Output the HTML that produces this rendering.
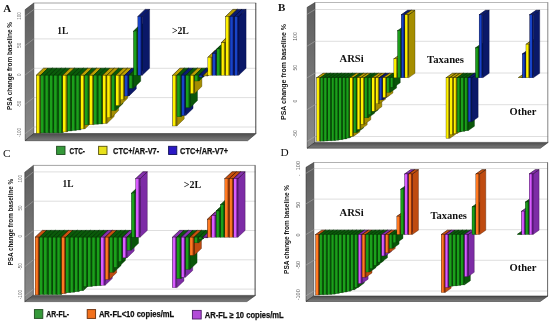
<!DOCTYPE html>
<html lang="en"><head><meta charset="utf-8"><title>PSA change from baseline</title>
<style>html,body{margin:0;padding:0;background:#fff}body{width:550px;height:323px;overflow:hidden}svg{display:block}</style></head>
<body>
<svg width="550" height="323" viewBox="0 0 550 323">
<defs><linearGradient id="wall" x1="0" y1="0" x2="0" y2="1"><stop offset="0" stop-color="#5e5e5e"/><stop offset="1" stop-color="#8a8a8a"/></linearGradient><linearGradient id="floor" x1="0" y1="0" x2="0" y2="1"><stop offset="0" stop-color="#4c4c4c"/><stop offset="1" stop-color="#7c7c7c"/></linearGradient><linearGradient id="gG" x1="0" y1="0" x2="1" y2="0"><stop offset="0" stop-color="#095409"/><stop offset="0.15" stop-color="#1ba01b"/><stop offset="0.5" stop-color="#1ba01b"/><stop offset="0.78" stop-color="#095409"/><stop offset="1" stop-color="#095409"/></linearGradient><linearGradient id="gY" x1="0" y1="0" x2="1" y2="0"><stop offset="0" stop-color="#7a6c00"/><stop offset="0.15" stop-color="#fff200"/><stop offset="0.5" stop-color="#fff200"/><stop offset="0.78" stop-color="#7a6c00"/><stop offset="1" stop-color="#7a6c00"/></linearGradient><linearGradient id="gB" x1="0" y1="0" x2="1" y2="0"><stop offset="0" stop-color="#07125c"/><stop offset="0.15" stop-color="#1844c8"/><stop offset="0.5" stop-color="#1844c8"/><stop offset="0.78" stop-color="#07125c"/><stop offset="1" stop-color="#07125c"/></linearGradient><linearGradient id="gO" x1="0" y1="0" x2="1" y2="0"><stop offset="0" stop-color="#8a3206"/><stop offset="0.15" stop-color="#ff7a22"/><stop offset="0.5" stop-color="#ff7a22"/><stop offset="0.78" stop-color="#8a3206"/><stop offset="1" stop-color="#8a3206"/></linearGradient><linearGradient id="gP" x1="0" y1="0" x2="1" y2="0"><stop offset="0" stop-color="#5e1a82"/><stop offset="0.15" stop-color="#d95cff"/><stop offset="0.5" stop-color="#d95cff"/><stop offset="0.78" stop-color="#5e1a82"/><stop offset="1" stop-color="#5e1a82"/></linearGradient></defs>
<rect width="550" height="323" fill="#fff"/>
<g><rect x="33.8" y="3" width="222.4" height="130.5" fill="#fff"/>
<line x1="33.8" y1="9.5" x2="256.2" y2="9.5" stroke="#d6d6d6" stroke-width="0.8"/>
<line x1="33.8" y1="38.9" x2="256.2" y2="38.9" stroke="#d6d6d6" stroke-width="0.8"/>
<line x1="33.8" y1="68.3" x2="256.2" y2="68.3" stroke="#d6d6d6" stroke-width="0.8"/>
<line x1="33.8" y1="97.6" x2="256.2" y2="97.6" stroke="#d6d6d6" stroke-width="0.8"/>
<line x1="33.8" y1="127" x2="256.2" y2="127" stroke="#d6d6d6" stroke-width="0.8"/>
<line x1="33.8" y1="3" x2="256.2" y2="3" stroke="#9a9a9a" stroke-width="0.9"/>
<line x1="255.8" y1="3" x2="255.8" y2="133.5" stroke="#2c2c2c" stroke-width="0.9"/>
<polygon points="25.2,9.6 33.8,3 33.8,133.5 25.2,140.7" fill="url(#wall)" stroke="#2e2e2e" stroke-width="0.55" stroke-linejoin="round"/>
<line x1="33.8" y1="9.5" x2="25.2" y2="16.1" stroke="#b5b5b5" stroke-width="0.5"/>
<line x1="33.8" y1="38.9" x2="25.2" y2="45.5" stroke="#b5b5b5" stroke-width="0.5"/>
<line x1="33.8" y1="68.3" x2="25.2" y2="74.9" stroke="#b5b5b5" stroke-width="0.5"/>
<line x1="33.8" y1="97.6" x2="25.2" y2="104.2" stroke="#b5b5b5" stroke-width="0.5"/>
<line x1="33.8" y1="127" x2="25.2" y2="133.6" stroke="#b5b5b5" stroke-width="0.5"/>
<polygon points="25.2,140.7 33.8,133.5 256.2,133.5 247.6,140.7" fill="url(#floor)" stroke="#2e2e2e" stroke-width="0.55" stroke-linejoin="round"/>
<polygon points="40.62,75.3 47.92,68.2 47.92,126.12 40.62,133.22" fill="#a58e00" stroke="#3a3300" stroke-width="0.35" stroke-linejoin="round"/>
<polygon points="36.2,75.3 43.5,68.2 47.92,68.2 40.62,75.3" fill="#bca000" stroke="#3a3300" stroke-width="0.7" stroke-linejoin="round"/>
<rect x="36.2" y="75.3" width="4.42" height="57.92" fill="url(#gY)" stroke="#3a3300" stroke-width="0.3"/>
<polygon points="45.04,75.3 52.34,68.2 52.34,125.82 45.04,132.92" fill="#0a560a" stroke="#063806" stroke-width="0.35" stroke-linejoin="round"/>
<polygon points="40.62,75.3 47.92,68.2 52.34,68.2 45.04,75.3" fill="#0a5a0a" stroke="#063806" stroke-width="0.7" stroke-linejoin="round"/>
<rect x="40.62" y="75.3" width="4.42" height="57.62" fill="url(#gG)" stroke="#063806" stroke-width="0.3"/>
<polygon points="49.46,75.3 56.76,68.2 56.76,125.82 49.46,132.92" fill="#0a560a" stroke="#063806" stroke-width="0.35" stroke-linejoin="round"/>
<polygon points="45.04,75.3 52.34,68.2 56.76,68.2 49.46,75.3" fill="#0a5a0a" stroke="#063806" stroke-width="0.7" stroke-linejoin="round"/>
<rect x="45.04" y="75.3" width="4.42" height="57.62" fill="url(#gG)" stroke="#063806" stroke-width="0.3"/>
<polygon points="53.88,75.3 61.18,68.2 61.18,125.82 53.88,132.92" fill="#0a560a" stroke="#063806" stroke-width="0.35" stroke-linejoin="round"/>
<polygon points="49.46,75.3 56.76,68.2 61.18,68.2 53.88,75.3" fill="#0a5a0a" stroke="#063806" stroke-width="0.7" stroke-linejoin="round"/>
<rect x="49.46" y="75.3" width="4.42" height="57.62" fill="url(#gG)" stroke="#063806" stroke-width="0.3"/>
<polygon points="58.3,75.3 65.6,68.2 65.6,125.82 58.3,132.92" fill="#0a560a" stroke="#063806" stroke-width="0.35" stroke-linejoin="round"/>
<polygon points="53.88,75.3 61.18,68.2 65.6,68.2 58.3,75.3" fill="#0a5a0a" stroke="#063806" stroke-width="0.7" stroke-linejoin="round"/>
<rect x="53.88" y="75.3" width="4.42" height="57.62" fill="url(#gG)" stroke="#063806" stroke-width="0.3"/>
<polygon points="62.72,75.3 70.02,68.2 70.02,125.82 62.72,132.92" fill="#0a560a" stroke="#063806" stroke-width="0.35" stroke-linejoin="round"/>
<polygon points="58.3,75.3 65.6,68.2 70.02,68.2 62.72,75.3" fill="#0a5a0a" stroke="#063806" stroke-width="0.7" stroke-linejoin="round"/>
<rect x="58.3" y="75.3" width="4.42" height="57.62" fill="url(#gG)" stroke="#063806" stroke-width="0.3"/>
<polygon points="67.14,75.3 74.44,68.2 74.44,124.88 67.14,131.98" fill="#a58e00" stroke="#3a3300" stroke-width="0.35" stroke-linejoin="round"/>
<polygon points="62.72,75.3 70.02,68.2 74.44,68.2 67.14,75.3" fill="#bca000" stroke="#3a3300" stroke-width="0.7" stroke-linejoin="round"/>
<rect x="62.72" y="75.3" width="4.42" height="56.68" fill="url(#gY)" stroke="#3a3300" stroke-width="0.3"/>
<polygon points="71.56,75.3 78.86,68.2 78.86,123.88 71.56,130.98" fill="#0a560a" stroke="#063806" stroke-width="0.35" stroke-linejoin="round"/>
<polygon points="67.14,75.3 74.44,68.2 78.86,68.2 71.56,75.3" fill="#0a5a0a" stroke="#063806" stroke-width="0.7" stroke-linejoin="round"/>
<rect x="67.14" y="75.3" width="4.42" height="55.68" fill="url(#gG)" stroke="#063806" stroke-width="0.3"/>
<polygon points="75.98,75.3 83.28,68.2 83.28,123.41 75.98,130.51" fill="#0a560a" stroke="#063806" stroke-width="0.35" stroke-linejoin="round"/>
<polygon points="71.56,75.3 78.86,68.2 83.28,68.2 75.98,75.3" fill="#0a5a0a" stroke="#063806" stroke-width="0.7" stroke-linejoin="round"/>
<rect x="71.56" y="75.3" width="4.42" height="55.21" fill="url(#gG)" stroke="#063806" stroke-width="0.3"/>
<polygon points="80.4,75.3 87.7,68.2 87.7,122.88 80.4,129.98" fill="#0a560a" stroke="#063806" stroke-width="0.35" stroke-linejoin="round"/>
<polygon points="75.98,75.3 83.28,68.2 87.7,68.2 80.4,75.3" fill="#0a5a0a" stroke="#063806" stroke-width="0.7" stroke-linejoin="round"/>
<rect x="75.98" y="75.3" width="4.42" height="54.68" fill="url(#gG)" stroke="#063806" stroke-width="0.3"/>
<polygon points="84.82,75.3 92.12,68.2 92.12,121.88 84.82,128.98" fill="#a58e00" stroke="#3a3300" stroke-width="0.35" stroke-linejoin="round"/>
<polygon points="80.4,75.3 87.7,68.2 92.12,68.2 84.82,75.3" fill="#bca000" stroke="#3a3300" stroke-width="0.7" stroke-linejoin="round"/>
<rect x="80.4" y="75.3" width="4.42" height="53.68" fill="url(#gY)" stroke="#3a3300" stroke-width="0.3"/>
<polygon points="89.24,75.3 96.54,68.2 96.54,117.71 89.24,124.81" fill="#0a560a" stroke="#063806" stroke-width="0.35" stroke-linejoin="round"/>
<polygon points="84.82,75.3 92.12,68.2 96.54,68.2 89.24,75.3" fill="#0a5a0a" stroke="#063806" stroke-width="0.7" stroke-linejoin="round"/>
<rect x="84.82" y="75.3" width="4.42" height="49.51" fill="url(#gG)" stroke="#063806" stroke-width="0.3"/>
<polygon points="93.66,75.3 100.96,68.2 100.96,117.71 93.66,124.81" fill="#a58e00" stroke="#3a3300" stroke-width="0.35" stroke-linejoin="round"/>
<polygon points="89.24,75.3 96.54,68.2 100.96,68.2 93.66,75.3" fill="#bca000" stroke="#3a3300" stroke-width="0.7" stroke-linejoin="round"/>
<rect x="89.24" y="75.3" width="4.42" height="49.51" fill="url(#gY)" stroke="#3a3300" stroke-width="0.3"/>
<polygon points="98.08,75.3 105.38,68.2 105.38,117.12 98.08,124.22" fill="#0a560a" stroke="#063806" stroke-width="0.35" stroke-linejoin="round"/>
<polygon points="93.66,75.3 100.96,68.2 105.38,68.2 98.08,75.3" fill="#0a5a0a" stroke="#063806" stroke-width="0.7" stroke-linejoin="round"/>
<rect x="93.66" y="75.3" width="4.42" height="48.92" fill="url(#gG)" stroke="#063806" stroke-width="0.3"/>
<polygon points="102.5,75.3 109.8,68.2 109.8,116.89 102.5,123.99" fill="#0a560a" stroke="#063806" stroke-width="0.35" stroke-linejoin="round"/>
<polygon points="98.08,75.3 105.38,68.2 109.8,68.2 102.5,75.3" fill="#0a5a0a" stroke="#063806" stroke-width="0.7" stroke-linejoin="round"/>
<rect x="98.08" y="75.3" width="4.42" height="48.69" fill="url(#gG)" stroke="#063806" stroke-width="0.3"/>
<polygon points="106.92,75.3 114.22,68.2 114.22,116.42 106.92,123.52" fill="#a58e00" stroke="#3a3300" stroke-width="0.35" stroke-linejoin="round"/>
<polygon points="102.5,75.3 109.8,68.2 114.22,68.2 106.92,75.3" fill="#bca000" stroke="#3a3300" stroke-width="0.7" stroke-linejoin="round"/>
<rect x="102.5" y="75.3" width="4.42" height="48.22" fill="url(#gY)" stroke="#3a3300" stroke-width="0.3"/>
<polygon points="111.34,75.3 118.64,68.2 118.64,110.59 111.34,117.69" fill="#a58e00" stroke="#3a3300" stroke-width="0.35" stroke-linejoin="round"/>
<polygon points="106.92,75.3 114.22,68.2 118.64,68.2 111.34,75.3" fill="#bca000" stroke="#3a3300" stroke-width="0.7" stroke-linejoin="round"/>
<rect x="106.92" y="75.3" width="4.42" height="42.39" fill="url(#gY)" stroke="#3a3300" stroke-width="0.3"/>
<polygon points="115.76,75.3 123.06,68.2 123.06,103.48 115.76,110.58" fill="#0a560a" stroke="#063806" stroke-width="0.35" stroke-linejoin="round"/>
<polygon points="111.34,75.3 118.64,68.2 123.06,68.2 115.76,75.3" fill="#0a5a0a" stroke="#063806" stroke-width="0.7" stroke-linejoin="round"/>
<rect x="111.34" y="75.3" width="4.42" height="35.28" fill="url(#gG)" stroke="#063806" stroke-width="0.3"/>
<polygon points="120.18,75.3 127.48,68.2 127.48,98.42 120.18,105.52" fill="#a58e00" stroke="#3a3300" stroke-width="0.35" stroke-linejoin="round"/>
<polygon points="115.76,75.3 123.06,68.2 127.48,68.2 120.18,75.3" fill="#bca000" stroke="#3a3300" stroke-width="0.7" stroke-linejoin="round"/>
<rect x="115.76" y="75.3" width="4.42" height="30.22" fill="url(#gY)" stroke="#3a3300" stroke-width="0.3"/>
<polygon points="124.6,75.3 131.9,68.2 131.9,92.6 124.6,99.7" fill="#a58e00" stroke="#3a3300" stroke-width="0.35" stroke-linejoin="round"/>
<polygon points="120.18,75.3 127.48,68.2 131.9,68.2 124.6,75.3" fill="#bca000" stroke="#3a3300" stroke-width="0.7" stroke-linejoin="round"/>
<rect x="120.18" y="75.3" width="4.42" height="24.4" fill="url(#gY)" stroke="#3a3300" stroke-width="0.3"/>
<polygon points="129.02,75.3 136.32,68.2 136.32,88.9 129.02,96" fill="#0a1868" stroke="#040a3a" stroke-width="0.35" stroke-linejoin="round"/>
<polygon points="124.6,75.3 131.9,68.2 136.32,68.2 129.02,75.3" fill="#0a1a70" stroke="#040a3a" stroke-width="0.7" stroke-linejoin="round"/>
<rect x="124.6" y="75.3" width="4.42" height="20.7" fill="url(#gB)" stroke="#040a3a" stroke-width="0.3"/>
<polygon points="133.44,75.3 140.74,68.2 140.74,81.19 133.44,88.29" fill="#0a560a" stroke="#063806" stroke-width="0.35" stroke-linejoin="round"/>
<polygon points="129.02,75.3 136.32,68.2 140.74,68.2 133.44,75.3" fill="#0a5a0a" stroke="#063806" stroke-width="0.7" stroke-linejoin="round"/>
<rect x="129.02" y="75.3" width="4.42" height="12.99" fill="url(#gG)" stroke="#063806" stroke-width="0.3"/>
<polygon points="137.86,31.2 145.16,24.1 145.16,68.2 137.86,75.3" fill="#0a560a" stroke="#063806" stroke-width="0.35" stroke-linejoin="round"/>
<polygon points="133.44,31.2 140.74,24.1 145.16,24.1 137.86,31.2" fill="#0a5a0a" stroke="#063806" stroke-width="0.7" stroke-linejoin="round"/>
<rect x="133.44" y="31.2" width="4.42" height="44.1" fill="url(#gG)" stroke="#063806" stroke-width="0.3"/>
<polygon points="142.28,16.5 149.58,9.4 149.58,68.2 142.28,75.3" fill="#0a1868" stroke="#040a3a" stroke-width="0.35" stroke-linejoin="round"/>
<polygon points="137.86,16.5 145.16,9.4 149.58,9.4 142.28,16.5" fill="#0a1a70" stroke="#040a3a" stroke-width="0.7" stroke-linejoin="round"/>
<rect x="137.86" y="16.5" width="4.42" height="58.8" fill="url(#gB)" stroke="#040a3a" stroke-width="0.3"/>
<polygon points="176.92,75.3 184.22,68.2 184.22,118.89 176.92,125.99" fill="#a58e00" stroke="#3a3300" stroke-width="0.35" stroke-linejoin="round"/>
<polygon points="172.5,75.3 179.8,68.2 184.22,68.2 176.92,75.3" fill="#bca000" stroke="#3a3300" stroke-width="0.7" stroke-linejoin="round"/>
<rect x="172.5" y="75.3" width="4.42" height="50.69" fill="url(#gY)" stroke="#3a3300" stroke-width="0.3"/>
<polygon points="181.34,75.3 188.64,68.2 188.64,109.71 181.34,116.81" fill="#0a560a" stroke="#063806" stroke-width="0.35" stroke-linejoin="round"/>
<polygon points="176.92,75.3 184.22,68.2 188.64,68.2 181.34,75.3" fill="#0a5a0a" stroke="#063806" stroke-width="0.7" stroke-linejoin="round"/>
<rect x="176.92" y="75.3" width="4.42" height="41.51" fill="url(#gG)" stroke="#063806" stroke-width="0.3"/>
<polygon points="185.76,75.3 193.06,68.2 193.06,108.42 185.76,115.52" fill="#0a1868" stroke="#040a3a" stroke-width="0.35" stroke-linejoin="round"/>
<polygon points="181.34,75.3 188.64,68.2 193.06,68.2 185.76,75.3" fill="#0a1a70" stroke="#040a3a" stroke-width="0.7" stroke-linejoin="round"/>
<rect x="181.34" y="75.3" width="4.42" height="40.22" fill="url(#gB)" stroke="#040a3a" stroke-width="0.3"/>
<polygon points="190.18,75.3 197.48,68.2 197.48,100.54 190.18,107.64" fill="#0a560a" stroke="#063806" stroke-width="0.35" stroke-linejoin="round"/>
<polygon points="185.76,75.3 193.06,68.2 197.48,68.2 190.18,75.3" fill="#0a5a0a" stroke="#063806" stroke-width="0.7" stroke-linejoin="round"/>
<rect x="185.76" y="75.3" width="4.42" height="32.34" fill="url(#gG)" stroke="#063806" stroke-width="0.3"/>
<polygon points="194.6,75.3 201.9,68.2 201.9,86.43 194.6,93.53" fill="#a58e00" stroke="#3a3300" stroke-width="0.35" stroke-linejoin="round"/>
<polygon points="190.18,75.3 197.48,68.2 201.9,68.2 194.6,75.3" fill="#bca000" stroke="#3a3300" stroke-width="0.7" stroke-linejoin="round"/>
<rect x="190.18" y="75.3" width="4.42" height="18.23" fill="url(#gY)" stroke="#3a3300" stroke-width="0.3"/>
<polygon points="199.02,75.3 206.32,68.2 206.32,73.9 199.02,81" fill="#0a560a" stroke="#063806" stroke-width="0.35" stroke-linejoin="round"/>
<polygon points="194.6,75.3 201.9,68.2 206.32,68.2 199.02,75.3" fill="#0a5a0a" stroke="#063806" stroke-width="0.7" stroke-linejoin="round"/>
<rect x="194.6" y="75.3" width="4.42" height="5.7" fill="url(#gG)" stroke="#063806" stroke-width="0.3"/>
<polygon points="203.44,75.3 210.74,68.2 210.74,69.96 203.44,77.06" fill="#0a1868" stroke="#040a3a" stroke-width="0.35" stroke-linejoin="round"/>
<polygon points="199.02,75.3 206.32,68.2 210.74,68.2 203.44,75.3" fill="#0a1a70" stroke="#040a3a" stroke-width="0.7" stroke-linejoin="round"/>
<rect x="199.02" y="75.3" width="4.42" height="1.76" fill="url(#gB)" stroke="#040a3a" stroke-width="0.3"/>
<polygon points="207.86,75.3 215.16,68.2 215.16,68.91 207.86,76.01" fill="#a58e00" stroke="#3a3300" stroke-width="0.35" stroke-linejoin="round"/>
<polygon points="203.44,75.3 210.74,68.2 215.16,68.2 207.86,75.3" fill="#bca000" stroke="#3a3300" stroke-width="0.7" stroke-linejoin="round"/>
<rect x="203.44" y="75.3" width="4.42" height="0.71" fill="url(#gY)" stroke="#3a3300" stroke-width="0.3"/>
<polygon points="212.28,57.31 219.58,50.21 219.58,68.2 212.28,75.3" fill="#a58e00" stroke="#3a3300" stroke-width="0.35" stroke-linejoin="round"/>
<polygon points="207.86,57.31 215.16,50.21 219.58,50.21 212.28,57.31" fill="#bca000" stroke="#3a3300" stroke-width="0.7" stroke-linejoin="round"/>
<rect x="207.86" y="57.31" width="4.42" height="17.99" fill="url(#gY)" stroke="#3a3300" stroke-width="0.3"/>
<polygon points="216.7,53.54 224,46.44 224,68.2 216.7,75.3" fill="#0a1868" stroke="#040a3a" stroke-width="0.35" stroke-linejoin="round"/>
<polygon points="212.28,53.54 219.58,46.44 224,46.44 216.7,53.54" fill="#0a1a70" stroke="#040a3a" stroke-width="0.7" stroke-linejoin="round"/>
<rect x="212.28" y="53.54" width="4.42" height="21.76" fill="url(#gB)" stroke="#040a3a" stroke-width="0.3"/>
<polygon points="221.12,49.02 228.42,41.92 228.42,68.2 221.12,75.3" fill="#0a560a" stroke="#063806" stroke-width="0.35" stroke-linejoin="round"/>
<polygon points="216.7,49.02 224,41.92 228.42,41.92 221.12,49.02" fill="#0a5a0a" stroke="#063806" stroke-width="0.7" stroke-linejoin="round"/>
<rect x="216.7" y="49.02" width="4.42" height="26.28" fill="url(#gG)" stroke="#063806" stroke-width="0.3"/>
<polygon points="225.54,42.72 232.84,35.62 232.84,68.2 225.54,75.3" fill="#a58e00" stroke="#3a3300" stroke-width="0.35" stroke-linejoin="round"/>
<polygon points="221.12,42.72 228.42,35.62 232.84,35.62 225.54,42.72" fill="#bca000" stroke="#3a3300" stroke-width="0.7" stroke-linejoin="round"/>
<rect x="221.12" y="42.72" width="4.42" height="32.58" fill="url(#gY)" stroke="#3a3300" stroke-width="0.3"/>
<polygon points="229.96,16.5 237.26,9.4 237.26,68.2 229.96,75.3" fill="#a58e00" stroke="#3a3300" stroke-width="0.35" stroke-linejoin="round"/>
<polygon points="225.54,16.5 232.84,9.4 237.26,9.4 229.96,16.5" fill="#bca000" stroke="#3a3300" stroke-width="0.7" stroke-linejoin="round"/>
<rect x="225.54" y="16.5" width="4.42" height="58.8" fill="url(#gY)" stroke="#3a3300" stroke-width="0.3"/>
<polygon points="234.38,16.5 241.68,9.4 241.68,68.2 234.38,75.3" fill="#0a1868" stroke="#040a3a" stroke-width="0.35" stroke-linejoin="round"/>
<polygon points="229.96,16.5 237.26,9.4 241.68,9.4 234.38,16.5" fill="#0a1a70" stroke="#040a3a" stroke-width="0.7" stroke-linejoin="round"/>
<rect x="229.96" y="16.5" width="4.42" height="58.8" fill="url(#gB)" stroke="#040a3a" stroke-width="0.3"/>
<polygon points="238.8,16.5 246.1,9.4 246.1,68.2 238.8,75.3" fill="#0a1868" stroke="#040a3a" stroke-width="0.35" stroke-linejoin="round"/>
<polygon points="234.38,16.5 241.68,9.4 246.1,9.4 238.8,16.5" fill="#0a1a70" stroke="#040a3a" stroke-width="0.7" stroke-linejoin="round"/>
<rect x="234.38" y="16.5" width="4.42" height="58.8" fill="url(#gB)" stroke="#040a3a" stroke-width="0.3"/></g>
<g><rect x="315" y="2.5" width="233.2" height="139.9" fill="#fff"/>
<line x1="315" y1="9.5" x2="548.2" y2="9.5" stroke="#d6d6d6" stroke-width="0.8"/>
<line x1="315" y1="41.3" x2="548.2" y2="41.3" stroke="#d6d6d6" stroke-width="0.8"/>
<line x1="315" y1="73" x2="548.2" y2="73" stroke="#d6d6d6" stroke-width="0.8"/>
<line x1="315" y1="104.7" x2="548.2" y2="104.7" stroke="#d6d6d6" stroke-width="0.8"/>
<line x1="315" y1="136.5" x2="548.2" y2="136.5" stroke="#d6d6d6" stroke-width="0.8"/>
<line x1="315" y1="2.5" x2="548.2" y2="2.5" stroke="#b0b0b0" stroke-width="0.9"/>
<line x1="547.8" y1="2.5" x2="547.8" y2="142.4" stroke="#777" stroke-width="0.9"/>
<polygon points="307.2,7.3 315,2.5 315,142.4 307.2,148.2" fill="url(#wall)" stroke="#2e2e2e" stroke-width="0.55" stroke-linejoin="round"/>
<line x1="315" y1="9.5" x2="307.2" y2="14.3" stroke="#b5b5b5" stroke-width="0.5"/>
<line x1="315" y1="41.3" x2="307.2" y2="46.1" stroke="#b5b5b5" stroke-width="0.5"/>
<line x1="315" y1="73" x2="307.2" y2="77.8" stroke="#b5b5b5" stroke-width="0.5"/>
<line x1="315" y1="104.7" x2="307.2" y2="109.5" stroke="#b5b5b5" stroke-width="0.5"/>
<line x1="315" y1="136.5" x2="307.2" y2="141.3" stroke="#b5b5b5" stroke-width="0.5"/>
<polygon points="307.2,148.2 315,142.4 548.2,142.4 540.4,148.2" fill="url(#floor)" stroke="#2e2e2e" stroke-width="0.55" stroke-linejoin="round"/>
<polygon points="320.28,77.8 326.68,73.3 326.68,136.69 320.28,141.19" fill="#a58e00" stroke="#3a3300" stroke-width="0.35" stroke-linejoin="round"/>
<polygon points="316.6,77.8 323,73.3 326.68,73.3 320.28,77.8" fill="#bca000" stroke="#3a3300" stroke-width="0.7" stroke-linejoin="round"/>
<rect x="316.6" y="77.8" width="3.68" height="63.39" fill="url(#gY)" stroke="#3a3300" stroke-width="0.3"/>
<polygon points="323.96,77.8 330.36,73.3 330.36,136.63 323.96,141.13" fill="#0a560a" stroke="#063806" stroke-width="0.35" stroke-linejoin="round"/>
<polygon points="320.28,77.8 326.68,73.3 330.36,73.3 323.96,77.8" fill="#0a5a0a" stroke="#063806" stroke-width="0.7" stroke-linejoin="round"/>
<rect x="320.28" y="77.8" width="3.68" height="63.33" fill="url(#gG)" stroke="#063806" stroke-width="0.3"/>
<polygon points="327.64,77.8 334.04,73.3 334.04,136.5 327.64,141" fill="#0a560a" stroke="#063806" stroke-width="0.35" stroke-linejoin="round"/>
<polygon points="323.96,77.8 330.36,73.3 334.04,73.3 327.64,77.8" fill="#0a5a0a" stroke="#063806" stroke-width="0.7" stroke-linejoin="round"/>
<rect x="323.96" y="77.8" width="3.68" height="63.2" fill="url(#gG)" stroke="#063806" stroke-width="0.3"/>
<polygon points="331.32,77.8 337.72,73.3 337.72,136.31 331.32,140.81" fill="#0a560a" stroke="#063806" stroke-width="0.35" stroke-linejoin="round"/>
<polygon points="327.64,77.8 334.04,73.3 337.72,73.3 331.32,77.8" fill="#0a5a0a" stroke="#063806" stroke-width="0.7" stroke-linejoin="round"/>
<rect x="327.64" y="77.8" width="3.68" height="63.01" fill="url(#gG)" stroke="#063806" stroke-width="0.3"/>
<polygon points="335,77.8 341.4,73.3 341.4,136.12 335,140.62" fill="#0a560a" stroke="#063806" stroke-width="0.35" stroke-linejoin="round"/>
<polygon points="331.32,77.8 337.72,73.3 341.4,73.3 335,77.8" fill="#0a5a0a" stroke="#063806" stroke-width="0.7" stroke-linejoin="round"/>
<rect x="331.32" y="77.8" width="3.68" height="62.82" fill="url(#gG)" stroke="#063806" stroke-width="0.3"/>
<polygon points="338.68,77.8 345.08,73.3 345.08,135.68 338.68,140.18" fill="#0a560a" stroke="#063806" stroke-width="0.35" stroke-linejoin="round"/>
<polygon points="335,77.8 341.4,73.3 345.08,73.3 338.68,77.8" fill="#0a5a0a" stroke="#063806" stroke-width="0.7" stroke-linejoin="round"/>
<rect x="335" y="77.8" width="3.68" height="62.38" fill="url(#gG)" stroke="#063806" stroke-width="0.3"/>
<polygon points="342.36,77.8 348.76,73.3 348.76,135.3 342.36,139.8" fill="#0a560a" stroke="#063806" stroke-width="0.35" stroke-linejoin="round"/>
<polygon points="338.68,77.8 345.08,73.3 348.76,73.3 342.36,77.8" fill="#0a5a0a" stroke="#063806" stroke-width="0.7" stroke-linejoin="round"/>
<rect x="338.68" y="77.8" width="3.68" height="62" fill="url(#gG)" stroke="#063806" stroke-width="0.3"/>
<polygon points="346.04,77.8 352.44,73.3 352.44,134.48 346.04,138.98" fill="#0a560a" stroke="#063806" stroke-width="0.35" stroke-linejoin="round"/>
<polygon points="342.36,77.8 348.76,73.3 352.44,73.3 346.04,77.8" fill="#0a5a0a" stroke="#063806" stroke-width="0.7" stroke-linejoin="round"/>
<rect x="342.36" y="77.8" width="3.68" height="61.18" fill="url(#gG)" stroke="#063806" stroke-width="0.3"/>
<polygon points="349.72,77.8 356.12,73.3 356.12,133.53 349.72,138.03" fill="#0a560a" stroke="#063806" stroke-width="0.35" stroke-linejoin="round"/>
<polygon points="346.04,77.8 352.44,73.3 356.12,73.3 349.72,77.8" fill="#0a5a0a" stroke="#063806" stroke-width="0.7" stroke-linejoin="round"/>
<rect x="346.04" y="77.8" width="3.68" height="60.23" fill="url(#gG)" stroke="#063806" stroke-width="0.3"/>
<polygon points="353.4,77.8 359.8,73.3 359.8,131.89 353.4,136.39" fill="#a58e00" stroke="#3a3300" stroke-width="0.35" stroke-linejoin="round"/>
<polygon points="349.72,77.8 356.12,73.3 359.8,73.3 353.4,77.8" fill="#bca000" stroke="#3a3300" stroke-width="0.7" stroke-linejoin="round"/>
<rect x="349.72" y="77.8" width="3.68" height="58.59" fill="url(#gY)" stroke="#3a3300" stroke-width="0.3"/>
<polygon points="357.08,77.8 363.48,73.3 363.48,128.09 357.08,132.59" fill="#0a560a" stroke="#063806" stroke-width="0.35" stroke-linejoin="round"/>
<polygon points="353.4,77.8 359.8,73.3 363.48,73.3 357.08,77.8" fill="#0a5a0a" stroke="#063806" stroke-width="0.7" stroke-linejoin="round"/>
<rect x="353.4" y="77.8" width="3.68" height="54.79" fill="url(#gG)" stroke="#063806" stroke-width="0.3"/>
<polygon points="360.76,77.8 367.16,73.3 367.16,124.87 360.76,129.37" fill="#a58e00" stroke="#3a3300" stroke-width="0.35" stroke-linejoin="round"/>
<polygon points="357.08,77.8 363.48,73.3 367.16,73.3 360.76,77.8" fill="#bca000" stroke="#3a3300" stroke-width="0.7" stroke-linejoin="round"/>
<rect x="357.08" y="77.8" width="3.68" height="51.57" fill="url(#gY)" stroke="#3a3300" stroke-width="0.3"/>
<polygon points="364.44,77.8 370.84,73.3 370.84,119.69 364.44,124.19" fill="#a58e00" stroke="#3a3300" stroke-width="0.35" stroke-linejoin="round"/>
<polygon points="360.76,77.8 367.16,73.3 370.84,73.3 364.44,77.8" fill="#bca000" stroke="#3a3300" stroke-width="0.7" stroke-linejoin="round"/>
<rect x="360.76" y="77.8" width="3.68" height="46.39" fill="url(#gY)" stroke="#3a3300" stroke-width="0.3"/>
<polygon points="368.12,77.8 374.52,73.3 374.52,113.37 368.12,117.87" fill="#0a560a" stroke="#063806" stroke-width="0.35" stroke-linejoin="round"/>
<polygon points="364.44,77.8 370.84,73.3 374.52,73.3 368.12,77.8" fill="#0a5a0a" stroke="#063806" stroke-width="0.7" stroke-linejoin="round"/>
<rect x="364.44" y="77.8" width="3.68" height="40.07" fill="url(#gG)" stroke="#063806" stroke-width="0.3"/>
<polygon points="371.8,77.8 378.2,73.3 378.2,109.89 371.8,114.39" fill="#0a560a" stroke="#063806" stroke-width="0.35" stroke-linejoin="round"/>
<polygon points="368.12,77.8 374.52,73.3 378.2,73.3 371.8,77.8" fill="#0a5a0a" stroke="#063806" stroke-width="0.7" stroke-linejoin="round"/>
<rect x="368.12" y="77.8" width="3.68" height="36.59" fill="url(#gG)" stroke="#063806" stroke-width="0.3"/>
<polygon points="375.48,77.8 381.88,73.3 381.88,106.67 375.48,111.17" fill="#a58e00" stroke="#3a3300" stroke-width="0.35" stroke-linejoin="round"/>
<polygon points="371.8,77.8 378.2,73.3 381.88,73.3 375.48,77.8" fill="#bca000" stroke="#3a3300" stroke-width="0.7" stroke-linejoin="round"/>
<rect x="371.8" y="77.8" width="3.68" height="33.37" fill="url(#gY)" stroke="#3a3300" stroke-width="0.3"/>
<polygon points="379.16,77.8 385.56,73.3 385.56,99.28 379.16,103.78" fill="#a58e00" stroke="#3a3300" stroke-width="0.35" stroke-linejoin="round"/>
<polygon points="375.48,77.8 381.88,73.3 385.56,73.3 379.16,77.8" fill="#bca000" stroke="#3a3300" stroke-width="0.7" stroke-linejoin="round"/>
<rect x="375.48" y="77.8" width="3.68" height="25.98" fill="url(#gY)" stroke="#3a3300" stroke-width="0.3"/>
<polygon points="382.84,77.8 389.24,73.3 389.24,95.48 382.84,99.98" fill="#0a1868" stroke="#040a3a" stroke-width="0.35" stroke-linejoin="round"/>
<polygon points="379.16,77.8 385.56,73.3 389.24,73.3 382.84,77.8" fill="#0a1a70" stroke="#040a3a" stroke-width="0.7" stroke-linejoin="round"/>
<rect x="379.16" y="77.8" width="3.68" height="22.18" fill="url(#gB)" stroke="#040a3a" stroke-width="0.3"/>
<polygon points="386.52,77.8 392.92,73.3 392.92,93.02 386.52,97.52" fill="#a58e00" stroke="#3a3300" stroke-width="0.35" stroke-linejoin="round"/>
<polygon points="382.84,77.8 389.24,73.3 392.92,73.3 386.52,77.8" fill="#bca000" stroke="#3a3300" stroke-width="0.7" stroke-linejoin="round"/>
<rect x="382.84" y="77.8" width="3.68" height="19.72" fill="url(#gY)" stroke="#3a3300" stroke-width="0.3"/>
<polygon points="390.2,77.8 396.6,73.3 396.6,87.9 390.2,92.4" fill="#0a560a" stroke="#063806" stroke-width="0.35" stroke-linejoin="round"/>
<polygon points="386.52,77.8 392.92,73.3 396.6,73.3 390.2,77.8" fill="#0a5a0a" stroke="#063806" stroke-width="0.7" stroke-linejoin="round"/>
<rect x="386.52" y="77.8" width="3.68" height="14.6" fill="url(#gG)" stroke="#063806" stroke-width="0.3"/>
<polygon points="393.88,77.8 400.28,73.3 400.28,82.72 393.88,87.22" fill="#0a560a" stroke="#063806" stroke-width="0.35" stroke-linejoin="round"/>
<polygon points="390.2,77.8 396.6,73.3 400.28,73.3 393.88,77.8" fill="#0a5a0a" stroke="#063806" stroke-width="0.7" stroke-linejoin="round"/>
<rect x="390.2" y="77.8" width="3.68" height="9.42" fill="url(#gG)" stroke="#063806" stroke-width="0.3"/>
<polygon points="397.56,58.84 403.96,54.34 403.96,73.3 397.56,77.8" fill="#a58e00" stroke="#3a3300" stroke-width="0.35" stroke-linejoin="round"/>
<polygon points="393.88,58.84 400.28,54.34 403.96,54.34 397.56,58.84" fill="#bca000" stroke="#3a3300" stroke-width="0.7" stroke-linejoin="round"/>
<rect x="393.88" y="58.84" width="3.68" height="18.96" fill="url(#gY)" stroke="#3a3300" stroke-width="0.3"/>
<polygon points="401.24,30.72 407.64,26.22 407.64,73.3 401.24,77.8" fill="#0a560a" stroke="#063806" stroke-width="0.35" stroke-linejoin="round"/>
<polygon points="397.56,30.72 403.96,26.22 407.64,26.22 401.24,30.72" fill="#0a5a0a" stroke="#063806" stroke-width="0.7" stroke-linejoin="round"/>
<rect x="397.56" y="30.72" width="3.68" height="47.08" fill="url(#gG)" stroke="#063806" stroke-width="0.3"/>
<polygon points="404.92,14.79 411.32,10.29 411.32,73.3 404.92,77.8" fill="#0a1868" stroke="#040a3a" stroke-width="0.35" stroke-linejoin="round"/>
<polygon points="401.24,14.79 407.64,10.29 411.32,10.29 404.92,14.79" fill="#0a1a70" stroke="#040a3a" stroke-width="0.7" stroke-linejoin="round"/>
<rect x="401.24" y="14.79" width="3.68" height="63.01" fill="url(#gB)" stroke="#040a3a" stroke-width="0.3"/>
<polygon points="408.6,14.79 415,10.29 415,73.3 408.6,77.8" fill="#a58e00" stroke="#3a3300" stroke-width="0.35" stroke-linejoin="round"/>
<polygon points="404.92,14.79 411.32,10.29 415,10.29 408.6,14.79" fill="#bca000" stroke="#3a3300" stroke-width="0.7" stroke-linejoin="round"/>
<rect x="404.92" y="14.79" width="3.68" height="63.01" fill="url(#gY)" stroke="#3a3300" stroke-width="0.3"/>
<polygon points="449.68,77.8 456.08,73.3 456.08,133.91 449.68,138.41" fill="#a58e00" stroke="#3a3300" stroke-width="0.35" stroke-linejoin="round"/>
<polygon points="446,77.8 452.4,73.3 456.08,73.3 449.68,77.8" fill="#bca000" stroke="#3a3300" stroke-width="0.7" stroke-linejoin="round"/>
<rect x="446" y="77.8" width="3.68" height="60.61" fill="url(#gY)" stroke="#3a3300" stroke-width="0.3"/>
<polygon points="453.36,77.8 459.76,73.3 459.76,130.18 453.36,134.68" fill="#a58e00" stroke="#3a3300" stroke-width="0.35" stroke-linejoin="round"/>
<polygon points="449.68,77.8 456.08,73.3 459.76,73.3 453.36,77.8" fill="#bca000" stroke="#3a3300" stroke-width="0.7" stroke-linejoin="round"/>
<rect x="449.68" y="77.8" width="3.68" height="56.88" fill="url(#gY)" stroke="#3a3300" stroke-width="0.3"/>
<polygon points="457.04,77.8 463.44,73.3 463.44,129.17 457.04,133.67" fill="#a58e00" stroke="#3a3300" stroke-width="0.35" stroke-linejoin="round"/>
<polygon points="453.36,77.8 459.76,73.3 463.44,73.3 457.04,77.8" fill="#bca000" stroke="#3a3300" stroke-width="0.7" stroke-linejoin="round"/>
<rect x="453.36" y="77.8" width="3.68" height="55.87" fill="url(#gY)" stroke="#3a3300" stroke-width="0.3"/>
<polygon points="460.72,77.8 467.12,73.3 467.12,127.53 460.72,132.03" fill="#0a560a" stroke="#063806" stroke-width="0.35" stroke-linejoin="round"/>
<polygon points="457.04,77.8 463.44,73.3 467.12,73.3 460.72,77.8" fill="#0a5a0a" stroke="#063806" stroke-width="0.7" stroke-linejoin="round"/>
<rect x="457.04" y="77.8" width="3.68" height="54.23" fill="url(#gG)" stroke="#063806" stroke-width="0.3"/>
<polygon points="464.4,77.8 470.8,73.3 470.8,126.89 464.4,131.39" fill="#0a560a" stroke="#063806" stroke-width="0.35" stroke-linejoin="round"/>
<polygon points="460.72,77.8 467.12,73.3 470.8,73.3 464.4,77.8" fill="#0a5a0a" stroke="#063806" stroke-width="0.7" stroke-linejoin="round"/>
<rect x="460.72" y="77.8" width="3.68" height="53.59" fill="url(#gG)" stroke="#063806" stroke-width="0.3"/>
<polygon points="468.08,77.8 474.48,73.3 474.48,126.2 468.08,130.7" fill="#0a560a" stroke="#063806" stroke-width="0.35" stroke-linejoin="round"/>
<polygon points="464.4,77.8 470.8,73.3 474.48,73.3 468.08,77.8" fill="#0a5a0a" stroke="#063806" stroke-width="0.7" stroke-linejoin="round"/>
<rect x="464.4" y="77.8" width="3.68" height="52.9" fill="url(#gG)" stroke="#063806" stroke-width="0.3"/>
<polygon points="471.76,77.8 478.16,73.3 478.16,117.29 471.76,121.79" fill="#0a1868" stroke="#040a3a" stroke-width="0.35" stroke-linejoin="round"/>
<polygon points="468.08,77.8 474.48,73.3 478.16,73.3 471.76,77.8" fill="#0a1a70" stroke="#040a3a" stroke-width="0.7" stroke-linejoin="round"/>
<rect x="468.08" y="77.8" width="3.68" height="43.99" fill="url(#gB)" stroke="#040a3a" stroke-width="0.3"/>
<polygon points="479.12,47.91 485.52,43.41 485.52,73.3 479.12,77.8" fill="#0a560a" stroke="#063806" stroke-width="0.35" stroke-linejoin="round"/>
<polygon points="475.44,47.91 481.84,43.41 485.52,43.41 479.12,47.91" fill="#0a5a0a" stroke="#063806" stroke-width="0.7" stroke-linejoin="round"/>
<rect x="475.44" y="47.91" width="3.68" height="29.89" fill="url(#gG)" stroke="#063806" stroke-width="0.3"/>
<polygon points="482.8,14.79 489.2,10.29 489.2,73.3 482.8,77.8" fill="#0a1868" stroke="#040a3a" stroke-width="0.35" stroke-linejoin="round"/>
<polygon points="479.12,14.79 485.52,10.29 489.2,10.29 482.8,14.79" fill="#0a1a70" stroke="#040a3a" stroke-width="0.7" stroke-linejoin="round"/>
<rect x="479.12" y="14.79" width="3.68" height="63.01" fill="url(#gB)" stroke="#040a3a" stroke-width="0.3"/>
<polygon points="522.28,77.42 528.68,72.92 528.68,73.3 522.28,77.8" fill="#a58e00" stroke="#3a3300" stroke-width="0.35" stroke-linejoin="round"/>
<polygon points="518.6,77.42 525,72.92 528.68,72.92 522.28,77.42" fill="#bca000" stroke="#3a3300" stroke-width="0.7" stroke-linejoin="round"/>
<rect x="518.6" y="77.42" width="3.68" height="0.38" fill="url(#gY)" stroke="#3a3300" stroke-width="0.3"/>
<polygon points="525.96,53.97 532.36,49.47 532.36,73.3 525.96,77.8" fill="#0a1868" stroke="#040a3a" stroke-width="0.35" stroke-linejoin="round"/>
<polygon points="522.28,53.97 528.68,49.47 532.36,49.47 525.96,53.97" fill="#0a1a70" stroke="#040a3a" stroke-width="0.7" stroke-linejoin="round"/>
<rect x="522.28" y="53.97" width="3.68" height="23.83" fill="url(#gB)" stroke="#040a3a" stroke-width="0.3"/>
<polygon points="529.64,44.3 536.04,39.8 536.04,73.3 529.64,77.8" fill="#a58e00" stroke="#3a3300" stroke-width="0.35" stroke-linejoin="round"/>
<polygon points="525.96,44.3 532.36,39.8 536.04,39.8 529.64,44.3" fill="#bca000" stroke="#3a3300" stroke-width="0.7" stroke-linejoin="round"/>
<rect x="525.96" y="44.3" width="3.68" height="33.5" fill="url(#gY)" stroke="#3a3300" stroke-width="0.3"/>
<polygon points="533.32,14.79 539.72,10.29 539.72,73.3 533.32,77.8" fill="#0a1868" stroke="#040a3a" stroke-width="0.35" stroke-linejoin="round"/>
<polygon points="529.64,14.79 536.04,10.29 539.72,10.29 533.32,14.79" fill="#0a1a70" stroke="#040a3a" stroke-width="0.7" stroke-linejoin="round"/>
<rect x="529.64" y="14.79" width="3.68" height="63.01" fill="url(#gB)" stroke="#040a3a" stroke-width="0.3"/></g>
<g><rect x="33.4" y="165.4" width="222.1" height="130" fill="#fff"/>
<line x1="33.4" y1="171.9" x2="255.5" y2="171.9" stroke="#d6d6d6" stroke-width="0.8"/>
<line x1="33.4" y1="201.2" x2="255.5" y2="201.2" stroke="#d6d6d6" stroke-width="0.8"/>
<line x1="33.4" y1="230.5" x2="255.5" y2="230.5" stroke="#d6d6d6" stroke-width="0.8"/>
<line x1="33.4" y1="259.8" x2="255.5" y2="259.8" stroke="#d6d6d6" stroke-width="0.8"/>
<line x1="33.4" y1="289.1" x2="255.5" y2="289.1" stroke="#d6d6d6" stroke-width="0.8"/>
<line x1="33.4" y1="165.4" x2="255.5" y2="165.4" stroke="#9a9a9a" stroke-width="0.9"/>
<line x1="255.1" y1="165.4" x2="255.1" y2="295.4" stroke="#2c2c2c" stroke-width="0.9"/>
<polygon points="24.8,172.2 33.4,165.4 33.4,295.4 24.8,301.6" fill="url(#wall)" stroke="#2e2e2e" stroke-width="0.55" stroke-linejoin="round"/>
<line x1="33.4" y1="171.9" x2="24.8" y2="178.7" stroke="#b5b5b5" stroke-width="0.5"/>
<line x1="33.4" y1="201.2" x2="24.8" y2="208" stroke="#b5b5b5" stroke-width="0.5"/>
<line x1="33.4" y1="230.5" x2="24.8" y2="237.3" stroke="#b5b5b5" stroke-width="0.5"/>
<line x1="33.4" y1="259.8" x2="24.8" y2="266.6" stroke="#b5b5b5" stroke-width="0.5"/>
<line x1="33.4" y1="289.1" x2="24.8" y2="295.9" stroke="#b5b5b5" stroke-width="0.5"/>
<polygon points="24.8,301.6 33.4,295.4 255.5,295.4 246.9,301.6" fill="url(#floor)" stroke="#2e2e2e" stroke-width="0.55" stroke-linejoin="round"/>
<polygon points="39.48,237.2 46.68,230.4 46.68,288.12 39.48,294.92" fill="#bf4b10" stroke="#401802" stroke-width="0.35" stroke-linejoin="round"/>
<polygon points="35.1,237.2 42.3,230.4 46.68,230.4 39.48,237.2" fill="#c9500f" stroke="#401802" stroke-width="0.7" stroke-linejoin="round"/>
<rect x="35.1" y="237.2" width="4.38" height="57.72" fill="url(#gO)" stroke="#401802" stroke-width="0.3"/>
<polygon points="43.85,237.2 51.05,230.4 51.05,287.83 43.85,294.63" fill="#0a560a" stroke="#063806" stroke-width="0.35" stroke-linejoin="round"/>
<polygon points="39.48,237.2 46.68,230.4 51.05,230.4 43.85,237.2" fill="#0a5a0a" stroke="#063806" stroke-width="0.7" stroke-linejoin="round"/>
<rect x="39.48" y="237.2" width="4.38" height="57.43" fill="url(#gG)" stroke="#063806" stroke-width="0.3"/>
<polygon points="48.23,237.2 55.43,230.4 55.43,287.83 48.23,294.63" fill="#0a560a" stroke="#063806" stroke-width="0.35" stroke-linejoin="round"/>
<polygon points="43.85,237.2 51.05,230.4 55.43,230.4 48.23,237.2" fill="#0a5a0a" stroke="#063806" stroke-width="0.7" stroke-linejoin="round"/>
<rect x="43.85" y="237.2" width="4.38" height="57.43" fill="url(#gG)" stroke="#063806" stroke-width="0.3"/>
<polygon points="52.6,237.2 59.8,230.4 59.8,287.83 52.6,294.63" fill="#0a560a" stroke="#063806" stroke-width="0.35" stroke-linejoin="round"/>
<polygon points="48.23,237.2 55.43,230.4 59.8,230.4 52.6,237.2" fill="#0a5a0a" stroke="#063806" stroke-width="0.7" stroke-linejoin="round"/>
<rect x="48.23" y="237.2" width="4.38" height="57.43" fill="url(#gG)" stroke="#063806" stroke-width="0.3"/>
<polygon points="56.98,237.2 64.17,230.4 64.17,287.83 56.98,294.63" fill="#0a560a" stroke="#063806" stroke-width="0.35" stroke-linejoin="round"/>
<polygon points="52.6,237.2 59.8,230.4 64.17,230.4 56.98,237.2" fill="#0a5a0a" stroke="#063806" stroke-width="0.7" stroke-linejoin="round"/>
<rect x="52.6" y="237.2" width="4.38" height="57.43" fill="url(#gG)" stroke="#063806" stroke-width="0.3"/>
<polygon points="61.35,237.2 68.55,230.4 68.55,287.83 61.35,294.63" fill="#0a560a" stroke="#063806" stroke-width="0.35" stroke-linejoin="round"/>
<polygon points="56.98,237.2 64.17,230.4 68.55,230.4 61.35,237.2" fill="#0a5a0a" stroke="#063806" stroke-width="0.7" stroke-linejoin="round"/>
<rect x="56.98" y="237.2" width="4.38" height="57.43" fill="url(#gG)" stroke="#063806" stroke-width="0.3"/>
<polygon points="65.72,237.2 72.92,230.4 72.92,286.89 65.72,293.69" fill="#bf4b10" stroke="#401802" stroke-width="0.35" stroke-linejoin="round"/>
<polygon points="61.35,237.2 68.55,230.4 72.92,230.4 65.72,237.2" fill="#c9500f" stroke="#401802" stroke-width="0.7" stroke-linejoin="round"/>
<rect x="61.35" y="237.2" width="4.38" height="56.49" fill="url(#gO)" stroke="#401802" stroke-width="0.3"/>
<polygon points="70.1,237.2 77.3,230.4 77.3,285.89 70.1,292.69" fill="#0a560a" stroke="#063806" stroke-width="0.35" stroke-linejoin="round"/>
<polygon points="65.72,237.2 72.92,230.4 77.3,230.4 70.1,237.2" fill="#0a5a0a" stroke="#063806" stroke-width="0.7" stroke-linejoin="round"/>
<rect x="65.72" y="237.2" width="4.38" height="55.49" fill="url(#gG)" stroke="#063806" stroke-width="0.3"/>
<polygon points="74.47,237.2 81.67,230.4 81.67,285.43 74.47,292.23" fill="#0a560a" stroke="#063806" stroke-width="0.35" stroke-linejoin="round"/>
<polygon points="70.1,237.2 77.3,230.4 81.67,230.4 74.47,237.2" fill="#0a5a0a" stroke="#063806" stroke-width="0.7" stroke-linejoin="round"/>
<rect x="70.1" y="237.2" width="4.38" height="55.03" fill="url(#gG)" stroke="#063806" stroke-width="0.3"/>
<polygon points="78.85,237.2 86.05,230.4 86.05,284.9 78.85,291.7" fill="#0a560a" stroke="#063806" stroke-width="0.35" stroke-linejoin="round"/>
<polygon points="74.47,237.2 81.67,230.4 86.05,230.4 78.85,237.2" fill="#0a5a0a" stroke="#063806" stroke-width="0.7" stroke-linejoin="round"/>
<rect x="74.47" y="237.2" width="4.38" height="54.5" fill="url(#gG)" stroke="#063806" stroke-width="0.3"/>
<polygon points="83.22,237.2 90.42,230.4 90.42,283.9 83.22,290.7" fill="#0a560a" stroke="#063806" stroke-width="0.35" stroke-linejoin="round"/>
<polygon points="78.85,237.2 86.05,230.4 90.42,230.4 83.22,237.2" fill="#0a5a0a" stroke="#063806" stroke-width="0.7" stroke-linejoin="round"/>
<rect x="78.85" y="237.2" width="4.38" height="53.5" fill="url(#gG)" stroke="#063806" stroke-width="0.3"/>
<polygon points="87.6,237.2 94.8,230.4 94.8,279.74 87.6,286.54" fill="#0a560a" stroke="#063806" stroke-width="0.35" stroke-linejoin="round"/>
<polygon points="83.22,237.2 90.42,230.4 94.8,230.4 87.6,237.2" fill="#0a5a0a" stroke="#063806" stroke-width="0.7" stroke-linejoin="round"/>
<rect x="83.22" y="237.2" width="4.38" height="49.34" fill="url(#gG)" stroke="#063806" stroke-width="0.3"/>
<polygon points="91.97,237.2 99.17,230.4 99.17,279.74 91.97,286.54" fill="#0a560a" stroke="#063806" stroke-width="0.35" stroke-linejoin="round"/>
<polygon points="87.6,237.2 94.8,230.4 99.17,230.4 91.97,237.2" fill="#0a5a0a" stroke="#063806" stroke-width="0.7" stroke-linejoin="round"/>
<rect x="87.6" y="237.2" width="4.38" height="49.34" fill="url(#gG)" stroke="#063806" stroke-width="0.3"/>
<polygon points="96.35,237.2 103.55,230.4 103.55,279.16 96.35,285.96" fill="#0a560a" stroke="#063806" stroke-width="0.35" stroke-linejoin="round"/>
<polygon points="91.97,237.2 99.17,230.4 103.55,230.4 96.35,237.2" fill="#0a5a0a" stroke="#063806" stroke-width="0.7" stroke-linejoin="round"/>
<rect x="91.97" y="237.2" width="4.38" height="48.76" fill="url(#gG)" stroke="#063806" stroke-width="0.3"/>
<polygon points="100.72,237.2 107.92,230.4 107.92,278.92 100.72,285.72" fill="#0a560a" stroke="#063806" stroke-width="0.35" stroke-linejoin="round"/>
<polygon points="96.35,237.2 103.55,230.4 107.92,230.4 100.72,237.2" fill="#0a5a0a" stroke="#063806" stroke-width="0.7" stroke-linejoin="round"/>
<rect x="96.35" y="237.2" width="4.38" height="48.52" fill="url(#gG)" stroke="#063806" stroke-width="0.3"/>
<polygon points="105.1,237.2 112.3,230.4 112.3,278.45 105.1,285.25" fill="#7d2ca6" stroke="#30093f" stroke-width="0.35" stroke-linejoin="round"/>
<polygon points="100.72,237.2 107.92,230.4 112.3,230.4 105.1,237.2" fill="#8431ad" stroke="#30093f" stroke-width="0.7" stroke-linejoin="round"/>
<rect x="100.72" y="237.2" width="4.38" height="48.05" fill="url(#gP)" stroke="#30093f" stroke-width="0.3"/>
<polygon points="109.47,237.2 116.67,230.4 116.67,272.65 109.47,279.45" fill="#bf4b10" stroke="#401802" stroke-width="0.35" stroke-linejoin="round"/>
<polygon points="105.1,237.2 112.3,230.4 116.67,230.4 109.47,237.2" fill="#c9500f" stroke="#401802" stroke-width="0.7" stroke-linejoin="round"/>
<rect x="105.1" y="237.2" width="4.38" height="42.25" fill="url(#gO)" stroke="#401802" stroke-width="0.3"/>
<polygon points="113.85,237.2 121.05,230.4 121.05,265.56 113.85,272.36" fill="#0a560a" stroke="#063806" stroke-width="0.35" stroke-linejoin="round"/>
<polygon points="109.47,237.2 116.67,230.4 121.05,230.4 113.85,237.2" fill="#0a5a0a" stroke="#063806" stroke-width="0.7" stroke-linejoin="round"/>
<rect x="109.47" y="237.2" width="4.38" height="35.16" fill="url(#gG)" stroke="#063806" stroke-width="0.3"/>
<polygon points="118.22,237.2 125.42,230.4 125.42,260.52 118.22,267.32" fill="#0a560a" stroke="#063806" stroke-width="0.35" stroke-linejoin="round"/>
<polygon points="113.85,237.2 121.05,230.4 125.42,230.4 118.22,237.2" fill="#0a5a0a" stroke="#063806" stroke-width="0.7" stroke-linejoin="round"/>
<rect x="113.85" y="237.2" width="4.38" height="30.12" fill="url(#gG)" stroke="#063806" stroke-width="0.3"/>
<polygon points="122.6,237.2 129.8,230.4 129.8,254.72 122.6,261.52" fill="#0a560a" stroke="#063806" stroke-width="0.35" stroke-linejoin="round"/>
<polygon points="118.22,237.2 125.42,230.4 129.8,230.4 122.6,237.2" fill="#0a5a0a" stroke="#063806" stroke-width="0.7" stroke-linejoin="round"/>
<rect x="118.22" y="237.2" width="4.38" height="24.32" fill="url(#gG)" stroke="#063806" stroke-width="0.3"/>
<polygon points="126.97,237.2 134.17,230.4 134.17,251.03 126.97,257.83" fill="#7d2ca6" stroke="#30093f" stroke-width="0.35" stroke-linejoin="round"/>
<polygon points="122.6,237.2 129.8,230.4 134.17,230.4 126.97,237.2" fill="#8431ad" stroke="#30093f" stroke-width="0.7" stroke-linejoin="round"/>
<rect x="122.6" y="237.2" width="4.38" height="20.63" fill="url(#gP)" stroke="#30093f" stroke-width="0.3"/>
<polygon points="131.35,237.2 138.55,230.4 138.55,243.35 131.35,250.15" fill="#0a560a" stroke="#063806" stroke-width="0.35" stroke-linejoin="round"/>
<polygon points="126.97,237.2 134.17,230.4 138.55,230.4 131.35,237.2" fill="#0a5a0a" stroke="#063806" stroke-width="0.7" stroke-linejoin="round"/>
<rect x="126.97" y="237.2" width="4.38" height="12.95" fill="url(#gG)" stroke="#063806" stroke-width="0.3"/>
<polygon points="135.72,193.25 142.92,186.45 142.92,230.4 135.72,237.2" fill="#0a560a" stroke="#063806" stroke-width="0.35" stroke-linejoin="round"/>
<polygon points="131.35,193.25 138.55,186.45 142.92,186.45 135.72,193.25" fill="#0a5a0a" stroke="#063806" stroke-width="0.7" stroke-linejoin="round"/>
<rect x="131.35" y="193.25" width="4.38" height="43.95" fill="url(#gG)" stroke="#063806" stroke-width="0.3"/>
<polygon points="140.1,178.6 147.3,171.8 147.3,230.4 140.1,237.2" fill="#7d2ca6" stroke="#30093f" stroke-width="0.35" stroke-linejoin="round"/>
<polygon points="135.72,178.6 142.92,171.8 147.3,171.8 140.1,178.6" fill="#8431ad" stroke="#30093f" stroke-width="0.7" stroke-linejoin="round"/>
<rect x="135.72" y="178.6" width="4.38" height="58.6" fill="url(#gP)" stroke="#30093f" stroke-width="0.3"/>
<polygon points="176.77,237.2 183.97,230.4 183.97,280.91 176.77,287.71" fill="#7d2ca6" stroke="#30093f" stroke-width="0.35" stroke-linejoin="round"/>
<polygon points="172.4,237.2 179.6,230.4 183.97,230.4 176.77,237.2" fill="#8431ad" stroke="#30093f" stroke-width="0.7" stroke-linejoin="round"/>
<rect x="172.4" y="237.2" width="4.37" height="50.51" fill="url(#gP)" stroke="#30093f" stroke-width="0.3"/>
<polygon points="181.14,237.2 188.34,230.4 188.34,271.77 181.14,278.57" fill="#0a560a" stroke="#063806" stroke-width="0.35" stroke-linejoin="round"/>
<polygon points="176.77,237.2 183.97,230.4 188.34,230.4 181.14,237.2" fill="#0a5a0a" stroke="#063806" stroke-width="0.7" stroke-linejoin="round"/>
<rect x="176.77" y="237.2" width="4.37" height="41.37" fill="url(#gG)" stroke="#063806" stroke-width="0.3"/>
<polygon points="185.51,237.2 192.71,230.4 192.71,270.48 185.51,277.28" fill="#7d2ca6" stroke="#30093f" stroke-width="0.35" stroke-linejoin="round"/>
<polygon points="181.14,237.2 188.34,230.4 192.71,230.4 185.51,237.2" fill="#8431ad" stroke="#30093f" stroke-width="0.7" stroke-linejoin="round"/>
<rect x="181.14" y="237.2" width="4.37" height="40.08" fill="url(#gP)" stroke="#30093f" stroke-width="0.3"/>
<polygon points="189.88,237.2 197.08,230.4 197.08,262.63 189.88,269.43" fill="#0a560a" stroke="#063806" stroke-width="0.35" stroke-linejoin="round"/>
<polygon points="185.51,237.2 192.71,230.4 197.08,230.4 189.88,237.2" fill="#0a5a0a" stroke="#063806" stroke-width="0.7" stroke-linejoin="round"/>
<rect x="185.51" y="237.2" width="4.37" height="32.23" fill="url(#gG)" stroke="#063806" stroke-width="0.3"/>
<polygon points="194.25,237.2 201.45,230.4 201.45,248.57 194.25,255.37" fill="#bf4b10" stroke="#401802" stroke-width="0.35" stroke-linejoin="round"/>
<polygon points="189.88,237.2 197.08,230.4 201.45,230.4 194.25,237.2" fill="#c9500f" stroke="#401802" stroke-width="0.7" stroke-linejoin="round"/>
<rect x="189.88" y="237.2" width="4.37" height="18.17" fill="url(#gO)" stroke="#401802" stroke-width="0.3"/>
<polygon points="198.62,237.2 205.82,230.4 205.82,236.08 198.62,242.88" fill="#0a560a" stroke="#063806" stroke-width="0.35" stroke-linejoin="round"/>
<polygon points="194.25,237.2 201.45,230.4 205.82,230.4 198.62,237.2" fill="#0a5a0a" stroke="#063806" stroke-width="0.7" stroke-linejoin="round"/>
<rect x="194.25" y="237.2" width="4.37" height="5.68" fill="url(#gG)" stroke="#063806" stroke-width="0.3"/>
<polygon points="202.99,237.2 210.19,230.4 210.19,232.16 202.99,238.96" fill="#0a560a" stroke="#063806" stroke-width="0.35" stroke-linejoin="round"/>
<polygon points="198.62,237.2 205.82,230.4 210.19,230.4 202.99,237.2" fill="#0a5a0a" stroke="#063806" stroke-width="0.7" stroke-linejoin="round"/>
<rect x="198.62" y="237.2" width="4.37" height="1.76" fill="url(#gG)" stroke="#063806" stroke-width="0.3"/>
<polygon points="207.36,237.2 214.56,230.4 214.56,231.1 207.36,237.9" fill="#7d2ca6" stroke="#30093f" stroke-width="0.35" stroke-linejoin="round"/>
<polygon points="202.99,237.2 210.19,230.4 214.56,230.4 207.36,237.2" fill="#8431ad" stroke="#30093f" stroke-width="0.7" stroke-linejoin="round"/>
<rect x="202.99" y="237.2" width="4.37" height="0.7" fill="url(#gP)" stroke="#30093f" stroke-width="0.3"/>
<polygon points="211.73,219.27 218.93,212.47 218.93,230.4 211.73,237.2" fill="#bf4b10" stroke="#401802" stroke-width="0.35" stroke-linejoin="round"/>
<polygon points="207.36,219.27 214.56,212.47 218.93,212.47 211.73,219.27" fill="#c9500f" stroke="#401802" stroke-width="0.7" stroke-linejoin="round"/>
<rect x="207.36" y="219.27" width="4.37" height="17.93" fill="url(#gO)" stroke="#401802" stroke-width="0.3"/>
<polygon points="216.1,215.52 223.3,208.72 223.3,230.4 216.1,237.2" fill="#7d2ca6" stroke="#30093f" stroke-width="0.35" stroke-linejoin="round"/>
<polygon points="211.73,215.52 218.93,208.72 223.3,208.72 216.1,215.52" fill="#8431ad" stroke="#30093f" stroke-width="0.7" stroke-linejoin="round"/>
<rect x="211.73" y="215.52" width="4.37" height="21.68" fill="url(#gP)" stroke="#30093f" stroke-width="0.3"/>
<polygon points="220.47,211.01 227.67,204.21 227.67,230.4 220.47,237.2" fill="#0a560a" stroke="#063806" stroke-width="0.35" stroke-linejoin="round"/>
<polygon points="216.1,211.01 223.3,204.21 227.67,204.21 220.47,211.01" fill="#0a5a0a" stroke="#063806" stroke-width="0.7" stroke-linejoin="round"/>
<rect x="216.1" y="211.01" width="4.37" height="26.19" fill="url(#gG)" stroke="#063806" stroke-width="0.3"/>
<polygon points="224.84,204.74 232.04,197.94 232.04,230.4 224.84,237.2" fill="#0a560a" stroke="#063806" stroke-width="0.35" stroke-linejoin="round"/>
<polygon points="220.47,204.74 227.67,197.94 232.04,197.94 224.84,204.74" fill="#0a5a0a" stroke="#063806" stroke-width="0.7" stroke-linejoin="round"/>
<rect x="220.47" y="204.74" width="4.37" height="32.46" fill="url(#gG)" stroke="#063806" stroke-width="0.3"/>
<polygon points="229.21,178.6 236.41,171.8 236.41,230.4 229.21,237.2" fill="#bf4b10" stroke="#401802" stroke-width="0.35" stroke-linejoin="round"/>
<polygon points="224.84,178.6 232.04,171.8 236.41,171.8 229.21,178.6" fill="#c9500f" stroke="#401802" stroke-width="0.7" stroke-linejoin="round"/>
<rect x="224.84" y="178.6" width="4.37" height="58.6" fill="url(#gO)" stroke="#401802" stroke-width="0.3"/>
<polygon points="233.58,178.6 240.78,171.8 240.78,230.4 233.58,237.2" fill="#bf4b10" stroke="#401802" stroke-width="0.35" stroke-linejoin="round"/>
<polygon points="229.21,178.6 236.41,171.8 240.78,171.8 233.58,178.6" fill="#c9500f" stroke="#401802" stroke-width="0.7" stroke-linejoin="round"/>
<rect x="229.21" y="178.6" width="4.37" height="58.6" fill="url(#gO)" stroke="#401802" stroke-width="0.3"/>
<polygon points="237.95,178.6 245.15,171.8 245.15,230.4 237.95,237.2" fill="#7d2ca6" stroke="#30093f" stroke-width="0.35" stroke-linejoin="round"/>
<polygon points="233.58,178.6 240.78,171.8 245.15,171.8 237.95,178.6" fill="#8431ad" stroke="#30093f" stroke-width="0.7" stroke-linejoin="round"/>
<rect x="233.58" y="178.6" width="4.37" height="58.6" fill="url(#gP)" stroke="#30093f" stroke-width="0.3"/></g>
<g><rect x="313.8" y="162.5" width="234.2" height="133.5" fill="#fff"/>
<line x1="313.8" y1="168.5" x2="548" y2="168.5" stroke="#d6d6d6" stroke-width="0.8"/>
<line x1="313.8" y1="199.1" x2="548" y2="199.1" stroke="#d6d6d6" stroke-width="0.8"/>
<line x1="313.8" y1="229.7" x2="548" y2="229.7" stroke="#d6d6d6" stroke-width="0.8"/>
<line x1="313.8" y1="260.3" x2="548" y2="260.3" stroke="#d6d6d6" stroke-width="0.8"/>
<line x1="313.8" y1="291" x2="548" y2="291" stroke="#d6d6d6" stroke-width="0.8"/>
<line x1="313.8" y1="162.5" x2="548" y2="162.5" stroke="#a8a8a8" stroke-width="0.9"/>
<line x1="547.6" y1="162.5" x2="547.6" y2="296" stroke="#555" stroke-width="0.9"/>
<polygon points="306,167.3 313.8,162.5 313.8,296 306,301.5" fill="url(#wall)" stroke="#2e2e2e" stroke-width="0.55" stroke-linejoin="round"/>
<line x1="313.8" y1="168.5" x2="306" y2="173.3" stroke="#b5b5b5" stroke-width="0.5"/>
<line x1="313.8" y1="199.1" x2="306" y2="203.9" stroke="#b5b5b5" stroke-width="0.5"/>
<line x1="313.8" y1="229.7" x2="306" y2="234.5" stroke="#b5b5b5" stroke-width="0.5"/>
<line x1="313.8" y1="260.3" x2="306" y2="265.1" stroke="#b5b5b5" stroke-width="0.5"/>
<line x1="313.8" y1="291" x2="306" y2="295.8" stroke="#b5b5b5" stroke-width="0.5"/>
<polygon points="306,301.5 313.8,296 548,296 540.2,301.5" fill="url(#floor)" stroke="#2e2e2e" stroke-width="0.55" stroke-linejoin="round"/>
<polygon points="319.47,234.5 325.57,230.2 325.57,290.73 319.47,295.03" fill="#bf4b10" stroke="#401802" stroke-width="0.35" stroke-linejoin="round"/>
<polygon points="315.6,234.5 321.7,230.2 325.57,230.2 319.47,234.5" fill="#c9500f" stroke="#401802" stroke-width="0.7" stroke-linejoin="round"/>
<rect x="315.6" y="234.5" width="3.87" height="60.53" fill="url(#gO)" stroke="#401802" stroke-width="0.3"/>
<polygon points="323.34,234.5 329.44,230.2 329.44,290.48 323.34,294.78" fill="#0a560a" stroke="#063806" stroke-width="0.35" stroke-linejoin="round"/>
<polygon points="319.47,234.5 325.57,230.2 329.44,230.2 323.34,234.5" fill="#0a5a0a" stroke="#063806" stroke-width="0.7" stroke-linejoin="round"/>
<rect x="319.47" y="234.5" width="3.87" height="60.28" fill="url(#gG)" stroke="#063806" stroke-width="0.3"/>
<polygon points="327.21,234.5 333.31,230.2 333.31,290.36 327.21,294.66" fill="#0a560a" stroke="#063806" stroke-width="0.35" stroke-linejoin="round"/>
<polygon points="323.34,234.5 329.44,230.2 333.31,230.2 327.21,234.5" fill="#0a5a0a" stroke="#063806" stroke-width="0.7" stroke-linejoin="round"/>
<rect x="323.34" y="234.5" width="3.87" height="60.16" fill="url(#gG)" stroke="#063806" stroke-width="0.3"/>
<polygon points="331.08,234.5 337.18,230.2 337.18,290.18 331.08,294.48" fill="#0a560a" stroke="#063806" stroke-width="0.35" stroke-linejoin="round"/>
<polygon points="327.21,234.5 333.31,230.2 337.18,230.2 331.08,234.5" fill="#0a5a0a" stroke="#063806" stroke-width="0.7" stroke-linejoin="round"/>
<rect x="327.21" y="234.5" width="3.87" height="59.98" fill="url(#gG)" stroke="#063806" stroke-width="0.3"/>
<polygon points="334.95,234.5 341.05,230.2 341.05,289.81 334.95,294.11" fill="#0a560a" stroke="#063806" stroke-width="0.35" stroke-linejoin="round"/>
<polygon points="331.08,234.5 337.18,230.2 341.05,230.2 334.95,234.5" fill="#0a5a0a" stroke="#063806" stroke-width="0.7" stroke-linejoin="round"/>
<rect x="331.08" y="234.5" width="3.87" height="59.61" fill="url(#gG)" stroke="#063806" stroke-width="0.3"/>
<polygon points="338.82,234.5 344.92,230.2 344.92,289.26 338.82,293.56" fill="#0a560a" stroke="#063806" stroke-width="0.35" stroke-linejoin="round"/>
<polygon points="334.95,234.5 341.05,230.2 344.92,230.2 338.82,234.5" fill="#0a5a0a" stroke="#063806" stroke-width="0.7" stroke-linejoin="round"/>
<rect x="334.95" y="234.5" width="3.87" height="59.06" fill="url(#gG)" stroke="#063806" stroke-width="0.3"/>
<polygon points="342.69,234.5 348.79,230.2 348.79,288.52 342.69,292.82" fill="#0a560a" stroke="#063806" stroke-width="0.35" stroke-linejoin="round"/>
<polygon points="338.82,234.5 344.92,230.2 348.79,230.2 342.69,234.5" fill="#0a5a0a" stroke="#063806" stroke-width="0.7" stroke-linejoin="round"/>
<rect x="338.82" y="234.5" width="3.87" height="58.32" fill="url(#gG)" stroke="#063806" stroke-width="0.3"/>
<polygon points="346.56,234.5 352.66,230.2 352.66,287.73 346.56,292.03" fill="#0a560a" stroke="#063806" stroke-width="0.35" stroke-linejoin="round"/>
<polygon points="342.69,234.5 348.79,230.2 352.66,230.2 346.56,234.5" fill="#0a5a0a" stroke="#063806" stroke-width="0.7" stroke-linejoin="round"/>
<rect x="342.69" y="234.5" width="3.87" height="57.53" fill="url(#gG)" stroke="#063806" stroke-width="0.3"/>
<polygon points="350.43,234.5 356.53,230.2 356.53,286.87 350.43,291.17" fill="#0a560a" stroke="#063806" stroke-width="0.35" stroke-linejoin="round"/>
<polygon points="346.56,234.5 352.66,230.2 356.53,230.2 350.43,234.5" fill="#0a5a0a" stroke="#063806" stroke-width="0.7" stroke-linejoin="round"/>
<rect x="346.56" y="234.5" width="3.87" height="56.67" fill="url(#gG)" stroke="#063806" stroke-width="0.3"/>
<polygon points="354.3,234.5 360.4,230.2 360.4,285.59 354.3,289.89" fill="#0a560a" stroke="#063806" stroke-width="0.35" stroke-linejoin="round"/>
<polygon points="350.43,234.5 356.53,230.2 360.4,230.2 354.3,234.5" fill="#0a5a0a" stroke="#063806" stroke-width="0.7" stroke-linejoin="round"/>
<rect x="350.43" y="234.5" width="3.87" height="55.39" fill="url(#gG)" stroke="#063806" stroke-width="0.3"/>
<polygon points="358.17,234.5 364.27,230.2 364.27,283.08 358.17,287.38" fill="#0a560a" stroke="#063806" stroke-width="0.35" stroke-linejoin="round"/>
<polygon points="354.3,234.5 360.4,230.2 364.27,230.2 358.17,234.5" fill="#0a5a0a" stroke="#063806" stroke-width="0.7" stroke-linejoin="round"/>
<rect x="354.3" y="234.5" width="3.87" height="52.88" fill="url(#gG)" stroke="#063806" stroke-width="0.3"/>
<polygon points="362.04,234.5 368.14,230.2 368.14,279.16 362.04,283.46" fill="#7d2ca6" stroke="#30093f" stroke-width="0.35" stroke-linejoin="round"/>
<polygon points="358.17,234.5 364.27,230.2 368.14,230.2 362.04,234.5" fill="#8431ad" stroke="#30093f" stroke-width="0.7" stroke-linejoin="round"/>
<rect x="358.17" y="234.5" width="3.87" height="48.96" fill="url(#gP)" stroke="#30093f" stroke-width="0.3"/>
<polygon points="365.91,234.5 372.01,230.2 372.01,272.92 365.91,277.22" fill="#bf4b10" stroke="#401802" stroke-width="0.35" stroke-linejoin="round"/>
<polygon points="362.04,234.5 368.14,230.2 372.01,230.2 365.91,234.5" fill="#c9500f" stroke="#401802" stroke-width="0.7" stroke-linejoin="round"/>
<rect x="362.04" y="234.5" width="3.87" height="42.72" fill="url(#gO)" stroke="#401802" stroke-width="0.3"/>
<polygon points="369.78,234.5 375.88,230.2 375.88,267.72 369.78,272.02" fill="#0a560a" stroke="#063806" stroke-width="0.35" stroke-linejoin="round"/>
<polygon points="365.91,234.5 372.01,230.2 375.88,230.2 369.78,234.5" fill="#0a5a0a" stroke="#063806" stroke-width="0.7" stroke-linejoin="round"/>
<rect x="365.91" y="234.5" width="3.87" height="37.52" fill="url(#gG)" stroke="#063806" stroke-width="0.3"/>
<polygon points="373.65,234.5 379.75,230.2 379.75,264.23 373.65,268.53" fill="#0a560a" stroke="#063806" stroke-width="0.35" stroke-linejoin="round"/>
<polygon points="369.78,234.5 375.88,230.2 379.75,230.2 373.65,234.5" fill="#0a5a0a" stroke="#063806" stroke-width="0.7" stroke-linejoin="round"/>
<rect x="369.78" y="234.5" width="3.87" height="34.03" fill="url(#gG)" stroke="#063806" stroke-width="0.3"/>
<polygon points="377.52,234.5 383.62,230.2 383.62,260.98 377.52,265.28" fill="#0a560a" stroke="#063806" stroke-width="0.35" stroke-linejoin="round"/>
<polygon points="373.65,234.5 379.75,230.2 383.62,230.2 377.52,234.5" fill="#0a5a0a" stroke="#063806" stroke-width="0.7" stroke-linejoin="round"/>
<rect x="373.65" y="234.5" width="3.87" height="30.78" fill="url(#gG)" stroke="#063806" stroke-width="0.3"/>
<polygon points="381.39,234.5 387.49,230.2 387.49,257.74 381.39,262.04" fill="#0a560a" stroke="#063806" stroke-width="0.35" stroke-linejoin="round"/>
<polygon points="377.52,234.5 383.62,230.2 387.49,230.2 381.39,234.5" fill="#0a5a0a" stroke="#063806" stroke-width="0.7" stroke-linejoin="round"/>
<rect x="377.52" y="234.5" width="3.87" height="27.54" fill="url(#gG)" stroke="#063806" stroke-width="0.3"/>
<polygon points="385.26,234.5 391.36,230.2 391.36,251.62 385.26,255.92" fill="#7d2ca6" stroke="#30093f" stroke-width="0.35" stroke-linejoin="round"/>
<polygon points="381.39,234.5 387.49,230.2 391.36,230.2 385.26,234.5" fill="#8431ad" stroke="#30093f" stroke-width="0.7" stroke-linejoin="round"/>
<rect x="381.39" y="234.5" width="3.87" height="21.42" fill="url(#gP)" stroke="#30093f" stroke-width="0.3"/>
<polygon points="389.13,234.5 395.23,230.2 395.23,248.56 389.13,252.86" fill="#bf4b10" stroke="#401802" stroke-width="0.35" stroke-linejoin="round"/>
<polygon points="385.26,234.5 391.36,230.2 395.23,230.2 389.13,234.5" fill="#c9500f" stroke="#401802" stroke-width="0.7" stroke-linejoin="round"/>
<rect x="385.26" y="234.5" width="3.87" height="18.36" fill="url(#gO)" stroke="#401802" stroke-width="0.3"/>
<polygon points="393,234.5 399.1,230.2 399.1,244.09 393,248.39" fill="#0a560a" stroke="#063806" stroke-width="0.35" stroke-linejoin="round"/>
<polygon points="389.13,234.5 395.23,230.2 399.1,230.2 393,234.5" fill="#0a5a0a" stroke="#063806" stroke-width="0.7" stroke-linejoin="round"/>
<rect x="389.13" y="234.5" width="3.87" height="13.89" fill="url(#gG)" stroke="#063806" stroke-width="0.3"/>
<polygon points="396.87,234.5 402.97,230.2 402.97,238.4 396.87,242.7" fill="#0a560a" stroke="#063806" stroke-width="0.35" stroke-linejoin="round"/>
<polygon points="393,234.5 399.1,230.2 402.97,230.2 396.87,234.5" fill="#0a5a0a" stroke="#063806" stroke-width="0.7" stroke-linejoin="round"/>
<rect x="393" y="234.5" width="3.87" height="8.2" fill="url(#gG)" stroke="#063806" stroke-width="0.3"/>
<polygon points="400.74,216.32 406.84,212.02 406.84,230.2 400.74,234.5" fill="#bf4b10" stroke="#401802" stroke-width="0.35" stroke-linejoin="round"/>
<polygon points="396.87,216.32 402.97,212.02 406.84,212.02 400.74,216.32" fill="#c9500f" stroke="#401802" stroke-width="0.7" stroke-linejoin="round"/>
<rect x="396.87" y="216.32" width="3.87" height="18.18" fill="url(#gO)" stroke="#401802" stroke-width="0.3"/>
<polygon points="404.61,189.21 410.71,184.91 410.71,230.2 404.61,234.5" fill="#0a560a" stroke="#063806" stroke-width="0.35" stroke-linejoin="round"/>
<polygon points="400.74,189.21 406.84,184.91 410.71,184.91 404.61,189.21" fill="#0a5a0a" stroke="#063806" stroke-width="0.7" stroke-linejoin="round"/>
<rect x="400.74" y="189.21" width="3.87" height="45.29" fill="url(#gG)" stroke="#063806" stroke-width="0.3"/>
<polygon points="408.48,173.97 414.58,169.67 414.58,230.2 408.48,234.5" fill="#7d2ca6" stroke="#30093f" stroke-width="0.35" stroke-linejoin="round"/>
<polygon points="404.61,173.97 410.71,169.67 414.58,169.67 408.48,173.97" fill="#8431ad" stroke="#30093f" stroke-width="0.7" stroke-linejoin="round"/>
<rect x="404.61" y="173.97" width="3.87" height="60.53" fill="url(#gP)" stroke="#30093f" stroke-width="0.3"/>
<polygon points="412.35,173.97 418.45,169.67 418.45,230.2 412.35,234.5" fill="#bf4b10" stroke="#401802" stroke-width="0.35" stroke-linejoin="round"/>
<polygon points="408.48,173.97 414.58,169.67 418.45,169.67 412.35,173.97" fill="#c9500f" stroke="#401802" stroke-width="0.7" stroke-linejoin="round"/>
<rect x="408.48" y="173.97" width="3.87" height="60.53" fill="url(#gO)" stroke="#401802" stroke-width="0.3"/>
<polygon points="445.05,234.5 451.15,230.2 451.15,288.22 445.05,292.52" fill="#bf4b10" stroke="#401802" stroke-width="0.35" stroke-linejoin="round"/>
<polygon points="441.2,234.5 447.3,230.2 451.15,230.2 445.05,234.5" fill="#c9500f" stroke="#401802" stroke-width="0.7" stroke-linejoin="round"/>
<rect x="441.2" y="234.5" width="3.85" height="58.02" fill="url(#gO)" stroke="#401802" stroke-width="0.3"/>
<polygon points="448.9,234.5 455,230.2 455,283.08 448.9,287.38" fill="#7d2ca6" stroke="#30093f" stroke-width="0.35" stroke-linejoin="round"/>
<polygon points="445.05,234.5 451.15,230.2 455,230.2 448.9,234.5" fill="#8431ad" stroke="#30093f" stroke-width="0.7" stroke-linejoin="round"/>
<rect x="445.05" y="234.5" width="3.85" height="52.88" fill="url(#gP)" stroke="#30093f" stroke-width="0.3"/>
<polygon points="452.75,234.5 458.85,230.2 458.85,281.91 452.75,286.21" fill="#0a560a" stroke="#063806" stroke-width="0.35" stroke-linejoin="round"/>
<polygon points="448.9,234.5 455,230.2 458.85,230.2 452.75,234.5" fill="#0a5a0a" stroke="#063806" stroke-width="0.7" stroke-linejoin="round"/>
<rect x="448.9" y="234.5" width="3.85" height="51.71" fill="url(#gG)" stroke="#063806" stroke-width="0.3"/>
<polygon points="456.6,234.5 462.7,230.2 462.7,281.61 456.6,285.91" fill="#0a560a" stroke="#063806" stroke-width="0.35" stroke-linejoin="round"/>
<polygon points="452.75,234.5 458.85,230.2 462.7,230.2 456.6,234.5" fill="#0a5a0a" stroke="#063806" stroke-width="0.7" stroke-linejoin="round"/>
<rect x="452.75" y="234.5" width="3.85" height="51.41" fill="url(#gG)" stroke="#063806" stroke-width="0.3"/>
<polygon points="460.45,234.5 466.55,230.2 466.55,281.18 460.45,285.48" fill="#0a560a" stroke="#063806" stroke-width="0.35" stroke-linejoin="round"/>
<polygon points="456.6,234.5 462.7,230.2 466.55,230.2 460.45,234.5" fill="#0a5a0a" stroke="#063806" stroke-width="0.7" stroke-linejoin="round"/>
<rect x="456.6" y="234.5" width="3.85" height="50.98" fill="url(#gG)" stroke="#063806" stroke-width="0.3"/>
<polygon points="464.3,234.5 470.4,230.2 470.4,280.63 464.3,284.93" fill="#0a560a" stroke="#063806" stroke-width="0.35" stroke-linejoin="round"/>
<polygon points="460.45,234.5 466.55,230.2 470.4,230.2 464.3,234.5" fill="#0a5a0a" stroke="#063806" stroke-width="0.7" stroke-linejoin="round"/>
<rect x="460.45" y="234.5" width="3.85" height="50.43" fill="url(#gG)" stroke="#063806" stroke-width="0.3"/>
<polygon points="468.15,234.5 474.25,230.2 474.25,272.31 468.15,276.61" fill="#7d2ca6" stroke="#30093f" stroke-width="0.35" stroke-linejoin="round"/>
<polygon points="464.3,234.5 470.4,230.2 474.25,230.2 468.15,234.5" fill="#8431ad" stroke="#30093f" stroke-width="0.7" stroke-linejoin="round"/>
<rect x="464.3" y="234.5" width="3.85" height="42.11" fill="url(#gP)" stroke="#30093f" stroke-width="0.3"/>
<polygon points="475.85,206.96 481.95,202.66 481.95,230.2 475.85,234.5" fill="#0a560a" stroke="#063806" stroke-width="0.35" stroke-linejoin="round"/>
<polygon points="472,206.96 478.1,202.66 481.95,202.66 475.85,206.96" fill="#0a5a0a" stroke="#063806" stroke-width="0.7" stroke-linejoin="round"/>
<rect x="472" y="206.96" width="3.85" height="27.54" fill="url(#gG)" stroke="#063806" stroke-width="0.3"/>
<polygon points="479.7,173.97 485.8,169.67 485.8,230.2 479.7,234.5" fill="#bf4b10" stroke="#401802" stroke-width="0.35" stroke-linejoin="round"/>
<polygon points="475.85,173.97 481.95,169.67 485.8,169.67 479.7,173.97" fill="#c9500f" stroke="#401802" stroke-width="0.7" stroke-linejoin="round"/>
<rect x="475.85" y="173.97" width="3.85" height="60.53" fill="url(#gO)" stroke="#401802" stroke-width="0.3"/>
<polygon points="521.45,234.13 527.55,229.83 527.55,230.2 521.45,234.5" fill="#0a560a" stroke="#063806" stroke-width="0.35" stroke-linejoin="round"/>
<polygon points="517.6,234.13 523.7,229.83 527.55,229.83 521.45,234.13" fill="#0a5a0a" stroke="#063806" stroke-width="0.7" stroke-linejoin="round"/>
<rect x="517.6" y="234.13" width="3.85" height="0.37" fill="url(#gG)" stroke="#063806" stroke-width="0.3"/>
<polygon points="525.3,211.31 531.4,207.01 531.4,230.2 525.3,234.5" fill="#7d2ca6" stroke="#30093f" stroke-width="0.35" stroke-linejoin="round"/>
<polygon points="521.45,211.31 527.55,207.01 531.4,207.01 525.3,211.31" fill="#8431ad" stroke="#30093f" stroke-width="0.7" stroke-linejoin="round"/>
<rect x="521.45" y="211.31" width="3.85" height="23.19" fill="url(#gP)" stroke="#30093f" stroke-width="0.3"/>
<polygon points="529.15,202.06 535.25,197.76 535.25,230.2 529.15,234.5" fill="#0a560a" stroke="#063806" stroke-width="0.35" stroke-linejoin="round"/>
<polygon points="525.3,202.06 531.4,197.76 535.25,197.76 529.15,202.06" fill="#0a5a0a" stroke="#063806" stroke-width="0.7" stroke-linejoin="round"/>
<rect x="525.3" y="202.06" width="3.85" height="32.44" fill="url(#gG)" stroke="#063806" stroke-width="0.3"/>
<polygon points="533,173.97 539.1,169.67 539.1,230.2 533,234.5" fill="#7d2ca6" stroke="#30093f" stroke-width="0.35" stroke-linejoin="round"/>
<polygon points="529.15,173.97 535.25,169.67 539.1,169.67 533,173.97" fill="#8431ad" stroke="#30093f" stroke-width="0.7" stroke-linejoin="round"/>
<rect x="529.15" y="173.97" width="3.85" height="60.53" fill="url(#gP)" stroke="#30093f" stroke-width="0.3"/></g>
<g><text x="3.2" y="11.7" font-family="'Liberation Serif',serif" font-size="11" font-weight="bold" fill="#111" text-anchor="start">A</text>
<text x="278" y="11.4" font-family="'Liberation Serif',serif" font-size="11" font-weight="bold" fill="#111" text-anchor="start">B</text>
<text x="3.1" y="157" font-family="'Liberation Serif',serif" font-size="11.3" font-weight="normal" fill="#111" text-anchor="start">C</text>
<text x="280.4" y="156.4" font-family="'Liberation Serif',serif" font-size="11.3" font-weight="normal" fill="#111" text-anchor="start">D</text>
<text x="57.2" y="33.8" font-family="'Liberation Serif',serif" font-size="10.7" font-weight="bold" fill="#111" text-anchor="start" textLength="11" lengthAdjust="spacingAndGlyphs">1L</text>
<text x="171.9" y="33.6" font-family="'Liberation Serif',serif" font-size="10.7" font-weight="bold" fill="#111" text-anchor="start" textLength="17" lengthAdjust="spacingAndGlyphs">&gt;2L</text>
<text x="62.6" y="186.5" font-family="'Liberation Serif',serif" font-size="10.7" font-weight="bold" fill="#111" text-anchor="start" textLength="11" lengthAdjust="spacingAndGlyphs">1L</text>
<text x="183.8" y="187.5" font-family="'Liberation Serif',serif" font-size="10.7" font-weight="bold" fill="#111" text-anchor="start" textLength="17.4" lengthAdjust="spacingAndGlyphs">&gt;2L</text>
<text x="339.5" y="62.2" font-family="'Liberation Serif',serif" font-size="10.6" font-weight="bold" fill="#111" text-anchor="start" textLength="24.2" lengthAdjust="spacingAndGlyphs">ARSi</text>
<text x="427" y="63.4" font-family="'Liberation Serif',serif" font-size="10.6" font-weight="bold" fill="#111" text-anchor="start" textLength="37" lengthAdjust="spacingAndGlyphs">Taxanes</text>
<text x="509.5" y="114.8" font-family="'Liberation Serif',serif" font-size="10.6" font-weight="bold" fill="#111" text-anchor="start" textLength="26.8" lengthAdjust="spacingAndGlyphs">Other</text>
<text x="339.5" y="215.5" font-family="'Liberation Serif',serif" font-size="10.6" font-weight="bold" fill="#111" text-anchor="start" textLength="24.2" lengthAdjust="spacingAndGlyphs">ARSi</text>
<text x="430.5" y="218.5" font-family="'Liberation Serif',serif" font-size="10.6" font-weight="bold" fill="#111" text-anchor="start" textLength="36.4" lengthAdjust="spacingAndGlyphs">Taxanes</text>
<text x="509.5" y="270.7" font-family="'Liberation Serif',serif" font-size="10.6" font-weight="bold" fill="#111" text-anchor="start" textLength="27" lengthAdjust="spacingAndGlyphs">Other</text>
<text transform="translate(12.3 66) rotate(-90)" font-family="'Liberation Sans',sans-serif" font-size="7.2" font-weight="bold" fill="#111" text-anchor="middle" textLength="88" lengthAdjust="spacingAndGlyphs">PSA change from baseline %</text>
<text transform="translate(12.6 222.2) rotate(-90)" font-family="'Liberation Sans',sans-serif" font-size="7.2" font-weight="bold" fill="#111" text-anchor="middle" textLength="86.5" lengthAdjust="spacingAndGlyphs">PSA change from baseline %</text>
<text transform="translate(285.9 72) rotate(-90)" font-family="'Liberation Sans',sans-serif" font-size="7.2" font-weight="bold" fill="#111" text-anchor="middle" textLength="96" lengthAdjust="spacingAndGlyphs">PSA change from baseline %</text>
<text transform="translate(288.6 229.4) rotate(-90)" font-family="'Liberation Sans',sans-serif" font-size="7.2" font-weight="bold" fill="#111" text-anchor="middle" textLength="89" lengthAdjust="spacingAndGlyphs">PSA change from baseline %</text>
<text transform="translate(21 16) rotate(-90)" font-family="'Liberation Sans',sans-serif" font-size="4.6" font-weight="normal" fill="#666" text-anchor="middle">100</text>
<text transform="translate(21 45.3) rotate(-90)" font-family="'Liberation Sans',sans-serif" font-size="4.6" font-weight="normal" fill="#666" text-anchor="middle">50</text>
<text transform="translate(21 74.6) rotate(-90)" font-family="'Liberation Sans',sans-serif" font-size="4.6" font-weight="normal" fill="#666" text-anchor="middle">0</text>
<text transform="translate(21 104) rotate(-90)" font-family="'Liberation Sans',sans-serif" font-size="4.6" font-weight="normal" fill="#666" text-anchor="middle">-50</text>
<text transform="translate(21 132.5) rotate(-90)" font-family="'Liberation Sans',sans-serif" font-size="4.6" font-weight="normal" fill="#666" text-anchor="middle">-100</text>
<text transform="translate(21.6 178.7) rotate(-90)" font-family="'Liberation Sans',sans-serif" font-size="4.6" font-weight="normal" fill="#666" text-anchor="middle">100</text>
<text transform="translate(21.6 208) rotate(-90)" font-family="'Liberation Sans',sans-serif" font-size="4.6" font-weight="normal" fill="#666" text-anchor="middle">50</text>
<text transform="translate(21.6 236.3) rotate(-90)" font-family="'Liberation Sans',sans-serif" font-size="4.6" font-weight="normal" fill="#666" text-anchor="middle">0</text>
<text transform="translate(21.6 266.5) rotate(-90)" font-family="'Liberation Sans',sans-serif" font-size="4.6" font-weight="normal" fill="#666" text-anchor="middle">-50</text>
<text transform="translate(21.6 294.6) rotate(-90)" font-family="'Liberation Sans',sans-serif" font-size="4.6" font-weight="normal" fill="#666" text-anchor="middle">-100</text>
<text transform="translate(297.4 36.5) rotate(-90)" font-family="'Liberation Sans',sans-serif" font-size="5" font-weight="normal" fill="#5a5a5a" text-anchor="middle">100</text>
<text transform="translate(297.4 67.8) rotate(-90)" font-family="'Liberation Sans',sans-serif" font-size="5" font-weight="normal" fill="#5a5a5a" text-anchor="middle">50</text>
<text transform="translate(297.4 101.2) rotate(-90)" font-family="'Liberation Sans',sans-serif" font-size="5" font-weight="normal" fill="#5a5a5a" text-anchor="middle">0</text>
<text transform="translate(297.4 133.8) rotate(-90)" font-family="'Liberation Sans',sans-serif" font-size="5" font-weight="normal" fill="#5a5a5a" text-anchor="middle">-50</text>
<text transform="translate(300 165.6) rotate(-90)" font-family="'Liberation Sans',sans-serif" font-size="5.5" font-weight="normal" fill="#5a5a5a" text-anchor="middle">100</text>
<text transform="translate(300 204.8) rotate(-90)" font-family="'Liberation Sans',sans-serif" font-size="5.5" font-weight="normal" fill="#5a5a5a" text-anchor="middle">50</text>
<text transform="translate(300 235) rotate(-90)" font-family="'Liberation Sans',sans-serif" font-size="5.5" font-weight="normal" fill="#5a5a5a" text-anchor="middle">0</text>
<text transform="translate(300 264.8) rotate(-90)" font-family="'Liberation Sans',sans-serif" font-size="5.5" font-weight="normal" fill="#5a5a5a" text-anchor="middle">-50</text>
<text transform="translate(300 294.8) rotate(-90)" font-family="'Liberation Sans',sans-serif" font-size="5.5" font-weight="normal" fill="#5a5a5a" text-anchor="middle">-100</text>
<text transform="translate(301 175.3) rotate(-90)" font-family="'Liberation Sans',sans-serif" font-size="5.5" font-weight="normal" fill="#7a7a7a" text-anchor="middle">-</text>
<rect x="56.6" y="146.3" width="8.4" height="8.2" fill="#35993a" stroke="#1e4a1e" stroke-width="0.9"/>
<text x="69.6" y="153.8" font-family="'Liberation Sans',sans-serif" font-size="8.4" font-weight="bold" fill="#111" text-anchor="start" textLength="15.3" lengthAdjust="spacingAndGlyphs" stroke="#111" stroke-width="0.25">CTC-</text>
<rect x="98.6" y="146.3" width="8.4" height="8.2" fill="#e8e11c" stroke="#55500a" stroke-width="0.9"/>
<text x="113.1" y="153.8" font-family="'Liberation Sans',sans-serif" font-size="8.4" font-weight="bold" fill="#111" text-anchor="start" textLength="46" lengthAdjust="spacingAndGlyphs" stroke="#111" stroke-width="0.25">CTC+/AR-V7-</text>
<rect x="168.6" y="146.3" width="8.2" height="8.2" fill="#2a18c4" stroke="#10105a" stroke-width="0.9"/>
<text x="180.1" y="153.8" font-family="'Liberation Sans',sans-serif" font-size="8.4" font-weight="bold" fill="#111" text-anchor="start" textLength="48" lengthAdjust="spacingAndGlyphs" stroke="#111" stroke-width="0.25">CTC+/AR-V7+</text>
<rect x="34.4" y="309.6" width="8.4" height="8.8" fill="#35993a" stroke="#1e4a1e" stroke-width="0.9"/>
<text x="46.3" y="317.4" font-family="'Liberation Sans',sans-serif" font-size="8.4" font-weight="bold" fill="#111" text-anchor="start" textLength="22.8" lengthAdjust="spacingAndGlyphs" stroke="#111" stroke-width="0.25">AR-FL-</text>
<rect x="87.2" y="309.6" width="8.4" height="8.8" fill="#f2701c" stroke="#6a2c08" stroke-width="0.9"/>
<text x="98.9" y="317.4" font-family="'Liberation Sans',sans-serif" font-size="8.4" font-weight="bold" fill="#111" text-anchor="start" textLength="75.3" lengthAdjust="spacingAndGlyphs" stroke="#111" stroke-width="0.25">AR-FL&lt;10 copies/mL</text>
<rect x="192.4" y="310.4" width="8.8" height="8.6" fill="#b24ad8" stroke="#4a1a66" stroke-width="0.9"/>
<text x="204.7" y="317.6" font-family="'Liberation Sans',sans-serif" font-size="8.4" font-weight="bold" fill="#111" text-anchor="start" textLength="79" lengthAdjust="spacingAndGlyphs" stroke="#111" stroke-width="0.25">AR-FL ≥ 10 copies/mL</text></g>
</svg>
</body></html>
